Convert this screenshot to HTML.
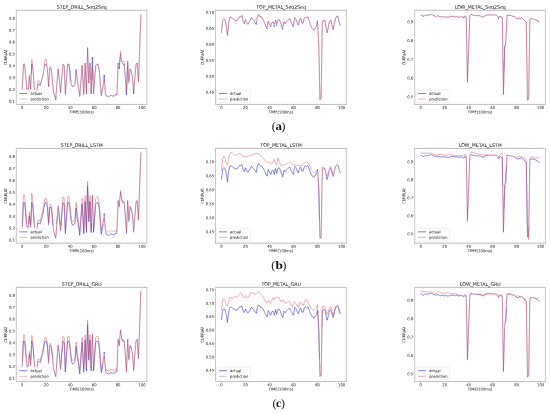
<!DOCTYPE html>
<html lang="en"><head><meta charset="utf-8"><title>Prediction results</title>
<style>
html,body{margin:0;padding:0;background:#fff;}
body{width:550px;height:414px;overflow:hidden;}
svg{display:block;}
svg text{font-family:"DejaVu Sans","Liberation Sans",sans-serif;fill:#1a1a1a;stroke:#1a1a1a;stroke-width:0.3px;text-rendering:geometricPrecision;}
svg text.sub{font-family:"Liberation Serif","DejaVu Serif",serif;fill:#111;stroke:none;}
</style></head><body>
<svg width="550" height="414" viewBox="0 0 550 414">
<rect width="550" height="414" fill="#fff"/>
<g>
<polyline points="22.23,90.32 23.43,64.2 24.63,64.2 25.83,77.26 27.03,90.32 28.22,90.32 29.42,77.26 30.62,89.13 31.82,64.2 33.02,70.14 34.22,86.76 35.41,96.25 36.61,97.44 37.81,84.38 39.01,84.38 40.21,85.57 41.41,80.82 42.6,77.26 43.8,70.14 45,64.2 46.2,64.2 47.4,68.95 48.6,86.76 49.79,68.95 50.99,68.95 52.19,77.26 53.39,91.5 54.59,96.25 55.79,99.81 56.98,83.19 58.18,68.95 59.38,79.63 60.58,92.69 61.78,77.26 62.98,64.2 64.17,65.39 65.37,95.06 66.57,77.26 67.77,64.2 68.97,64.2 70.17,72.51 71.36,84.38 72.56,86.76 73.76,86.16 74.96,84.38 76.16,69.43 77.36,80.82 78.55,87.35 79.75,96.85 80.95,80.82 82.15,65.39 83.71,95.06 85.2,63.02 86.4,93.88 87.6,47.58 88.8,83.19 90,63.02 91.2,93.88 92.4,57.08 93.59,93.88 94.55,79.63 95.75,65.39 96.95,64.2 98.15,64.2 99.35,71.33 100.54,86.76 101.32,95.66 103,86.76 104.2,74.89 105.4,92.69 106.12,95.66 107.31,96.25 108.51,96.85 109.71,96.25 110.91,95.06 112.11,96.25 113.31,95.66 114.5,96.25 115.7,94.47 116.9,95.06 118.1,63.02 119.3,68.95 120.5,53.52 121.69,61.83 122.89,64.2 124.09,64.2 125.29,77.26 126.49,95.06 127.69,63.02 128.88,83.19 130.08,68.95 131.28,71.33 132.48,77.26 133.68,93.88 134.88,77.26 136.07,64.2 137.27,63.02 138.47,82.01 139.67,48.77 140.87,14.35" fill="none" stroke="#0a0aaa" stroke-width="0.52" stroke-linejoin="round" stroke-opacity="0.5"/>
<path d="M31.37 73.55 L31.52 70.43 L31.67 67.32 L31.82 64.2 L31.97 64.94 L32.12 65.69 L32.27 66.43M37.51 87.65 L37.66 86.01 L37.81 84.38 L37.96 84.38 L38.11 84.38 L38.26 84.38 L38.41 84.38 L38.56 84.38 L38.71 84.38 L38.86 84.38 L39.01 84.38 L39.16 84.53 L39.31 84.68 L39.46 84.83 L39.61 84.98M44.55 66.43 L44.7 65.69 L44.85 64.94 L45 64.2 L45.15 64.2 L45.3 64.2 L45.45 64.2 L45.6 64.2 L45.75 64.2 L45.9 64.2 L46.05 64.2 L46.2 64.2 L46.35 64.8 L46.5 65.39 L46.65 65.98M49.79 68.95 L49.94 68.95 L50.09 68.95 L50.24 68.95 L50.39 68.95 L50.54 68.95 L50.69 68.95 L50.84 68.95 L50.99 68.95M55.04 97.59 L55.19 98.03 L55.34 98.48 L55.49 98.92 L55.64 99.37 L55.79 99.81 L55.94 97.74 L56.09 95.66M69.27 66.28 L69.42 67.32 L69.57 68.36 L69.72 69.4 L69.87 70.43 L70.02 71.47 L70.17 72.51 L70.32 74 L70.47 75.48 L70.62 76.96 L70.76 78.45 L70.91 79.93 L71.06 81.41M91.65 80.08 L91.8 75.48 L91.95 70.88 L92.1 66.28 L92.25 61.68 L92.4 57.08 L92.54 61.68 L92.69 66.28 L92.84 70.88 L92.99 75.48 L93.14 80.08M103.75 79.34 L103.9 77.85 L104.05 76.37 L104.2 74.89 L104.35 77.11 L104.5 79.34 L104.65 81.56M118.85 66.73 L119 67.47 L119.15 68.21 L119.3 68.95 L119.45 67.02 L119.6 65.09 L119.75 63.16 L119.9 61.24 L120.05 59.31 L120.2 57.38M122.14 62.72 L122.29 63.02 L122.44 63.31 L122.59 63.61 L122.74 63.91 L122.89 64.2 L123.04 64.2 L123.19 64.2 L123.34 64.2 L123.49 64.2 L123.64 64.2 L123.79 64.2 L123.94 64.2 L124.09 64.2 L124.24 65.84M126.04 88.39 L126.19 90.61 L126.34 92.84 L126.49 95.06 L126.64 91.06 L126.79 87.05 L126.94 83.05 L127.09 79.04 L127.24 75.03 L127.39 71.03 L127.54 67.02M133.38 89.72 L133.53 91.8 L133.68 93.88 L133.83 91.8 L133.98 89.72" fill="none" stroke="#0a0aaa" stroke-width="0.52" stroke-linejoin="round" stroke-opacity="0.5"/>
<polyline points="22.23,90.32 23.43,64.2 24.63,64.2 25.83,77.26 27.03,90.32 28.22,90.32 29.42,74.89 30.62,89.13 31.82,59.45 33.02,70.14 34.22,86.76 35.41,96.25 36.61,97.44 37.81,80.82 39.01,80.82 40.21,85.57 41.41,80.82 42.6,77.26 43.8,70.14 45,59.45 46.2,59.45 47.4,68.95 48.6,86.76 49.79,66.58 50.99,66.58 52.19,77.26 53.39,91.5 54.59,96.25 55.79,96.25 56.98,83.19 58.18,68.95 59.38,79.63 60.58,92.69 61.78,77.26 62.98,64.2 64.17,65.39 65.37,92.69 66.57,77.26 67.77,64.2 68.97,64.2 70.17,83.19 71.36,84.38 72.56,86.76 73.76,86.16 74.96,84.38 76.16,69.43 77.36,80.82 78.55,87.35 79.75,95.06 80.95,80.82 82.15,65.39 83.71,92.69 85.2,63.02 86.4,93.88 87.6,47.58 88.8,83.19 90,63.02 91.2,93.88 92.4,67.17 93.59,93.88 94.55,79.63 95.75,65.39 96.95,64.2 98.15,64.2 99.35,71.33 100.54,86.76 101.32,95.66 103,86.76 104.2,79.63 105.4,92.69 106.12,95.66 107.31,96.25 108.51,96.85 109.71,96.25 110.91,95.06 112.11,96.25 113.31,95.66 114.5,96.25 115.7,94.47 116.9,95.06 118.1,63.02 119.3,65.39 120.5,51.15 121.69,61.83 122.89,61.24 124.09,61.24 125.29,77.26 126.49,90.91 127.69,60.64 128.88,80.82 130.08,68.95 131.28,71.33 132.48,77.26 133.68,90.32 134.88,77.26 136.07,64.2 137.27,63.02 138.47,80.82 139.67,48.77 140.87,14.35" fill="none" stroke="#d43a4c" stroke-width="0.4" stroke-linejoin="round"/>
<rect x="16.9" y="89.9" width="34" height="12.6" rx="0.8" fill="#fff" fill-opacity="0.8" stroke="#e2e2e2" stroke-width="0.5"/>
<line x1="19.2" x2="27.3" y1="93.5" y2="93.5" stroke="#0a0aaa" stroke-width="0.52"/>
<line x1="19.2" x2="27.3" y1="99.05" y2="99.05" stroke="#d43a4c" stroke-width="0.4"/>
<text transform="translate(30.5,94.85) rotate(0.3) scale(0.09400,0.1)" font-size="38.6">actual</text>
<text transform="translate(30.5,100.4) rotate(0.3) scale(0.09400,0.1)" font-size="38.6">prediction</text>
<path d="M16.3 10.27H146.8M16.3 104.4H146.8" fill="none" stroke="#bebebe" stroke-width="1" stroke-linecap="square"/>
<path d="M16.3 10.27V104.4M146.8 10.27V104.4" fill="none" stroke="#c8c8c8" stroke-width="1" stroke-linecap="square"/>
<line x1="22.23" x2="22.23" y1="104.9" y2="106" stroke="#999" stroke-width="0.4"/>
<text transform="translate(22.23,109.05) rotate(0.3) scale(0.09400,0.1)" font-size="39.5" text-anchor="middle">0</text>
<line x1="46.2" x2="46.2" y1="104.9" y2="106" stroke="#999" stroke-width="0.4"/>
<text transform="translate(46.2,109.05) rotate(0.3) scale(0.09400,0.1)" font-size="39.5" text-anchor="middle">20</text>
<line x1="70.17" x2="70.17" y1="104.9" y2="106" stroke="#999" stroke-width="0.4"/>
<text transform="translate(70.17,109.05) rotate(0.3) scale(0.09400,0.1)" font-size="39.5" text-anchor="middle">40</text>
<line x1="94.13" x2="94.13" y1="104.9" y2="106" stroke="#999" stroke-width="0.4"/>
<text transform="translate(94.13,109.05) rotate(0.3) scale(0.09400,0.1)" font-size="39.5" text-anchor="middle">60</text>
<line x1="118.1" x2="118.1" y1="104.9" y2="106" stroke="#999" stroke-width="0.4"/>
<text transform="translate(118.1,109.05) rotate(0.3) scale(0.09400,0.1)" font-size="39.5" text-anchor="middle">80</text>
<line x1="142.07" x2="142.07" y1="104.9" y2="106" stroke="#999" stroke-width="0.4"/>
<text transform="translate(142.07,109.05) rotate(0.3) scale(0.09400,0.1)" font-size="39.5" text-anchor="middle">100</text>
<line x1="14.7" x2="15.8" y1="101" y2="101" stroke="#999" stroke-width="0.4"/>
<text transform="translate(14.8,102.9) rotate(0.3) scale(0.09400,0.1)" font-size="39.5" text-anchor="end">0.1</text>
<line x1="14.7" x2="15.8" y1="89.13" y2="89.13" stroke="#999" stroke-width="0.4"/>
<text transform="translate(14.8,91.03) rotate(0.3) scale(0.09400,0.1)" font-size="39.5" text-anchor="end">0.2</text>
<line x1="14.7" x2="15.8" y1="77.26" y2="77.26" stroke="#999" stroke-width="0.4"/>
<text transform="translate(14.8,79.16) rotate(0.3) scale(0.09400,0.1)" font-size="39.5" text-anchor="end">0.3</text>
<line x1="14.7" x2="15.8" y1="65.39" y2="65.39" stroke="#999" stroke-width="0.4"/>
<text transform="translate(14.8,67.29) rotate(0.3) scale(0.09400,0.1)" font-size="39.5" text-anchor="end">0.4</text>
<line x1="14.7" x2="15.8" y1="53.52" y2="53.52" stroke="#999" stroke-width="0.4"/>
<text transform="translate(14.8,55.42) rotate(0.3) scale(0.09400,0.1)" font-size="39.5" text-anchor="end">0.5</text>
<line x1="14.7" x2="15.8" y1="41.65" y2="41.65" stroke="#999" stroke-width="0.4"/>
<text transform="translate(14.8,43.55) rotate(0.3) scale(0.09400,0.1)" font-size="39.5" text-anchor="end">0.6</text>
<line x1="14.7" x2="15.8" y1="29.78" y2="29.78" stroke="#999" stroke-width="0.4"/>
<text transform="translate(14.8,31.68) rotate(0.3) scale(0.09400,0.1)" font-size="39.5" text-anchor="end">0.7</text>
<line x1="14.7" x2="15.8" y1="17.91" y2="17.91" stroke="#999" stroke-width="0.4"/>
<text transform="translate(14.8,19.81) rotate(0.3) scale(0.09400,0.1)" font-size="39.5" text-anchor="end">0.8</text>
<text transform="translate(81.75,8.77) rotate(0.3) scale(0.09400,0.1)" font-size="49.5" text-anchor="middle">STEP_DRILL_Seq2Seq</text>
<text transform="translate(81.55,113.4) rotate(0.3) scale(0.09400,0.1)" font-size="39.5" text-anchor="middle">TIME(100ms)</text>
<text transform="translate(6.9,57.63) rotate(-90.3) scale(0.09400,0.1)" font-size="38.31" text-anchor="middle">CURR(A)</text>
</g>
<g>
<polyline points="221.45,32.75 222.65,20.62 223.85,19.34 225.05,19.98 226.25,25.73 227.45,35.3 228.65,23.17 229.85,17.43 231.05,17.11 232.26,18.06 233.46,19.34 234.66,19.98 235.86,20.62 237.06,20.62 238.26,18.7 239.46,16.79 240.66,16.79 241.86,15.51 243.07,21.26 244.27,23.81 245.47,19.34 246.67,22.53 247.87,24.45 249.07,22.53 250.27,19.98 251.47,17.43 252.67,19.34 253.88,20.62 255.08,22.21 256.28,24.45 257.48,16.79 258.68,14.23 259.88,16.79 261.08,17.43 262.28,18.06 263.48,20.62 264.69,23.17 265.89,26.36 267.09,28.92 268.29,21.26 269.49,24.45 270.69,27 271.89,22.53 273.09,21.9 274.29,27 275.5,19.98 276.7,25.73 277.9,19.98 279.1,19.34 280.3,21.9 281.5,26.36 282.7,29.56 283.9,21.9 285.1,23.81 286.3,21.9 287.51,20.62 288.71,19.34 289.91,18.7 291.11,22.21 292.31,24.77 293.51,27 294.71,17.43 295.91,19.02 297.11,22.53 298.32,25.09 299.52,19.98 300.72,18.06 301.92,23.17 303.12,23.17 304.32,18.06 305.52,16.79 306.72,18.06 307.92,16.79 309.13,20.62 310.33,24.45 311.53,27.32 312.73,29.24 313.93,30.19 315.13,28.28 316.33,26.36 317.53,20.62 318.73,43.92 319.94,99.78 321.14,98.18 322.34,21.26 323.54,20.62 324.74,19.98 325.94,26.36 327.14,32.75 328.34,27.32 329.54,21.26 330.75,19.98 331.95,24.77 333.15,29.56 334.35,23.49 335.55,18.38 336.75,16.15 337.95,16.15 339.15,22.21 340.35,25.73" fill="none" stroke="#0a0aaa" stroke-width="0.52" stroke-linejoin="round" stroke-opacity="0.5"/>
<path d="M254.18 21.02 L254.33 21.22 L254.48 21.42 L254.63 21.62 L254.78 21.82 L254.93 22.01 L255.08 22.21 L255.23 22.49 L255.38 22.77 L255.53 23.05 L255.68 23.33 L255.83 23.61 L255.98 23.89 L256.13 24.17 L256.28 24.45 L256.43 23.49 L256.58 22.53 L256.73 21.58 L256.88 20.62M260.33 17.03 L260.48 17.11 L260.63 17.19 L260.78 17.27 L260.93 17.35 L261.08 17.43 L261.23 17.51 L261.38 17.59 L261.53 17.67M266.49 27.64 L266.64 27.96 L266.79 28.28 L266.94 28.6 L267.09 28.92M270.09 25.73 L270.24 26.04 L270.39 26.36 L270.54 26.68 L270.69 27 L270.84 26.44M273.84 25.09 L273.99 25.73 L274.14 26.36 L274.29 27 L274.44 26.12M276.55 25.01 L276.7 25.73 L276.85 25.01M281.2 25.25 L281.35 25.81 L281.5 26.36 L281.65 26.76 L281.8 27.16 L281.95 27.56 L282.1 27.96 L282.25 28.36 L282.4 28.76 L282.55 29.16 L282.7 29.56 L282.85 28.6M292.01 24.13 L292.16 24.45 L292.31 24.77 L292.46 25.05 L292.61 25.33 L292.76 25.61 L292.91 25.89 L293.06 26.16 L293.21 26.44 L293.36 26.72 L293.51 27" fill="none" stroke="#0a0aaa" stroke-width="0.52" stroke-linejoin="round" stroke-opacity="0.5"/>
<polyline points="221.45,32.75 222.65,20.62 223.85,19.34 225.05,19.98 226.25,25.73 227.45,35.3 228.65,23.17 229.85,17.43 231.05,17.11 232.26,18.06 233.46,19.34 234.66,19.98 235.86,20.62 237.06,20.62 238.26,18.7 239.46,16.79 240.66,16.79 241.86,15.51 243.07,21.26 244.27,23.81 245.47,19.34 246.67,22.53 247.87,24.45 249.07,22.53 250.27,19.98 251.47,17.43 252.67,19.34 253.88,20.62 255.08,19.66 256.28,19.34 257.48,16.79 258.68,14.23 259.88,16.79 261.08,16.15 262.28,18.06 263.48,20.62 264.69,23.17 265.89,26.36 267.09,27 268.29,21.26 269.49,24.45 270.69,25.09 271.89,22.53 273.09,21.9 274.29,24.13 275.5,19.98 276.7,23.49 277.9,19.98 279.1,19.34 280.3,21.9 281.5,24.13 282.7,26.36 283.9,21.9 285.1,23.81 286.3,21.9 287.51,20.62 288.71,19.34 289.91,18.7 291.11,22.21 292.31,23.49 293.51,24.77 294.71,17.43 295.91,19.02 297.11,22.53 298.32,25.09 299.52,19.98 300.72,18.06 301.92,23.17 303.12,23.17 304.32,18.06 305.52,16.79 306.72,18.06 307.92,16.79 309.13,20.62 310.33,24.45 311.53,27.32 312.73,29.24 313.93,30.19 315.13,28.28 316.33,26.36 317.53,20.62 318.73,43.92 319.94,99.78 321.14,98.18 322.34,21.26 323.54,20.62 324.74,19.98 325.94,26.36 327.14,32.75 328.34,27.32 329.54,21.26 330.75,19.98 331.95,24.77 333.15,29.56 334.35,23.49 335.55,18.38 336.75,16.15 337.95,16.15 339.15,22.21 340.35,25.73" fill="none" stroke="#d43a4c" stroke-width="0.4" stroke-linejoin="round"/>
<rect x="216.5" y="89.9" width="34" height="12.6" rx="0.8" fill="#fff" fill-opacity="0.8" stroke="#e2e2e2" stroke-width="0.5"/>
<line x1="218.8" x2="226.9" y1="93.5" y2="93.5" stroke="#0a0aaa" stroke-width="0.52"/>
<line x1="218.8" x2="226.9" y1="99.05" y2="99.05" stroke="#d43a4c" stroke-width="0.4"/>
<text transform="translate(230.1,94.85) rotate(0.3) scale(0.09400,0.1)" font-size="38.6">actual</text>
<text transform="translate(230.1,100.4) rotate(0.3) scale(0.09400,0.1)" font-size="38.6">prediction</text>
<path d="M215.5 10.27H346.3M215.5 104.4H346.3" fill="none" stroke="#bebebe" stroke-width="1" stroke-linecap="square"/>
<path d="M215.5 10.27V104.4M346.3 10.27V104.4" fill="none" stroke="#c8c8c8" stroke-width="1" stroke-linecap="square"/>
<line x1="221.45" x2="221.45" y1="104.9" y2="106" stroke="#999" stroke-width="0.4"/>
<text transform="translate(221.45,109.05) rotate(0.3) scale(0.09400,0.1)" font-size="39.5" text-anchor="middle">0</text>
<line x1="245.47" x2="245.47" y1="104.9" y2="106" stroke="#999" stroke-width="0.4"/>
<text transform="translate(245.47,109.05) rotate(0.3) scale(0.09400,0.1)" font-size="39.5" text-anchor="middle">20</text>
<line x1="269.49" x2="269.49" y1="104.9" y2="106" stroke="#999" stroke-width="0.4"/>
<text transform="translate(269.49,109.05) rotate(0.3) scale(0.09400,0.1)" font-size="39.5" text-anchor="middle">40</text>
<line x1="293.51" x2="293.51" y1="104.9" y2="106" stroke="#999" stroke-width="0.4"/>
<text transform="translate(293.51,109.05) rotate(0.3) scale(0.09400,0.1)" font-size="39.5" text-anchor="middle">60</text>
<line x1="317.53" x2="317.53" y1="104.9" y2="106" stroke="#999" stroke-width="0.4"/>
<text transform="translate(317.53,109.05) rotate(0.3) scale(0.09400,0.1)" font-size="39.5" text-anchor="middle">80</text>
<line x1="341.56" x2="341.56" y1="104.9" y2="106" stroke="#999" stroke-width="0.4"/>
<text transform="translate(341.56,109.05) rotate(0.3) scale(0.09400,0.1)" font-size="39.5" text-anchor="middle">100</text>
<line x1="213.9" x2="215" y1="91.8" y2="91.8" stroke="#999" stroke-width="0.4"/>
<text transform="translate(214,93.7) rotate(0.3) scale(0.09400,0.1)" font-size="39.5" text-anchor="end">0.45</text>
<line x1="213.9" x2="215" y1="75.84" y2="75.84" stroke="#999" stroke-width="0.4"/>
<text transform="translate(214,77.74) rotate(0.3) scale(0.09400,0.1)" font-size="39.5" text-anchor="end">0.50</text>
<line x1="213.9" x2="215" y1="59.88" y2="59.88" stroke="#999" stroke-width="0.4"/>
<text transform="translate(214,61.78) rotate(0.3) scale(0.09400,0.1)" font-size="39.5" text-anchor="end">0.55</text>
<line x1="213.9" x2="215" y1="43.92" y2="43.92" stroke="#999" stroke-width="0.4"/>
<text transform="translate(214,45.82) rotate(0.3) scale(0.09400,0.1)" font-size="39.5" text-anchor="end">0.60</text>
<line x1="213.9" x2="215" y1="27.96" y2="27.96" stroke="#999" stroke-width="0.4"/>
<text transform="translate(214,29.86) rotate(0.3) scale(0.09400,0.1)" font-size="39.5" text-anchor="end">0.65</text>
<line x1="213.9" x2="215" y1="12" y2="12" stroke="#999" stroke-width="0.4"/>
<text transform="translate(214,13.9) rotate(0.3) scale(0.09400,0.1)" font-size="39.5" text-anchor="end">0.70</text>
<text transform="translate(281.1,8.77) rotate(0.3) scale(0.09400,0.1)" font-size="49.5" text-anchor="middle">TOP_METAL_Seq2Seq</text>
<text transform="translate(280.9,113.4) rotate(0.3) scale(0.09400,0.1)" font-size="39.5" text-anchor="middle">TIME(100ms)</text>
<text transform="translate(203.6,57.63) rotate(-90.3) scale(0.09400,0.1)" font-size="38.31" text-anchor="middle">CURR(A)</text>
</g>
<g>
<polyline points="420.64,14.92 421.84,15.3 423.04,16.61 424.24,15.86 425.44,14.92 426.64,15.67 427.84,14.92 429.04,15.3 430.24,14.55 431.44,14.36 432.64,14.92 433.84,15.86 435.04,15.86 436.24,16.61 437.44,15.67 438.64,16.24 439.84,16.61 441.04,17.17 442.24,16.24 443.44,16.61 444.64,17.17 445.84,16.61 447.04,17.17 448.25,17.17 449.45,16.99 450.65,16.42 451.85,16.42 453.05,16.24 454.25,16.42 455.45,16.99 456.65,16.42 457.85,16.99 459.05,17.17 460.25,16.99 461.45,16.8 462.65,17.17 463.85,18.11 465.05,15.86 466.25,17.55 467.45,82.24 468.65,48.49 469.85,15.67 471.05,14.36 472.25,14.92 473.45,15.3 474.65,15.3 475.85,15.67 477.05,15.67 478.25,15.67 479.45,15.67 480.65,16.05 481.85,16.8 483.05,17.17 484.25,16.42 485.45,15.67 486.65,15.3 487.85,14.92 489.05,14.92 490.25,14.92 491.45,14.92 492.65,14.92 493.85,14.92 495.05,14.92 496.25,15.11 497.45,16.05 498.65,18.86 499.85,16.05 501.05,16.99 502.25,17.55 503.45,94.42 504.65,46.61 505.85,42.86 507.05,14.92 508.25,15.3 509.45,15.49 510.65,15.49 511.85,15.86 513.06,16.24 514.26,16.61 515.46,17.55 516.66,18.49 517.86,19.24 519.06,17.92 520.26,18.86 521.46,17.36 522.66,18.67 523.86,19.99 525.06,21.3 526.26,22.24 527.46,100.05 528.66,99.11 529.86,19.05 531.06,18.86 532.26,18.86 533.46,19.05 534.66,19.42 535.86,19.99 537.06,20.74 538.26,21.68 539.46,22.61" fill="none" stroke="#0a0aaa" stroke-width="0.52" stroke-linejoin="round" stroke-opacity="0.5"/>
<path d="M422.59 16.12 L422.74 16.28 L422.89 16.45 L423.04 16.61 L423.19 16.52 L423.34 16.42 L423.49 16.33 L423.64 16.24M463.1 17.53 L463.25 17.64 L463.4 17.76 L463.55 17.88 L463.7 18 L463.85 18.11 L464 17.83 L464.15 17.55 L464.3 17.27 L464.45 16.99M498.35 18.16 L498.5 18.51 L498.65 18.86 L498.8 18.51 L498.95 18.16M504.05 70.52 L504.2 64.54 L504.35 58.57 L504.5 52.59 L504.65 46.61 L504.8 46.14 L504.95 45.67M517.41 18.96 L517.56 19.05 L517.71 19.14 L517.86 19.24 L518.01 19.07M537.36 20.97 L537.51 21.09 L537.66 21.21 L537.81 21.32 L537.96 21.44 L538.11 21.56 L538.26 21.68 L538.41 21.79 L538.56 21.91 L538.71 22.03 L538.86 22.14 L539.01 22.26 L539.16 22.38 L539.31 22.5 L539.46 22.61" fill="none" stroke="#0a0aaa" stroke-width="0.52" stroke-linejoin="round" stroke-opacity="0.5"/>
<polyline points="420.64,14.92 421.84,15.3 423.04,15.67 424.24,15.86 425.44,14.92 426.64,15.67 427.84,14.92 429.04,15.3 430.24,14.55 431.44,14.36 432.64,14.92 433.84,15.86 435.04,15.86 436.24,16.61 437.44,15.67 438.64,16.24 439.84,16.61 441.04,17.17 442.24,16.24 443.44,16.61 444.64,17.17 445.84,16.61 447.04,17.17 448.25,17.17 449.45,16.99 450.65,16.42 451.85,16.42 453.05,16.24 454.25,16.42 455.45,16.99 456.65,16.42 457.85,16.99 459.05,17.17 460.25,16.99 461.45,16.8 462.65,17.17 463.85,16.24 465.05,15.86 466.25,17.55 467.45,82.24 468.65,48.49 469.85,15.67 471.05,14.36 472.25,14.92 473.45,15.3 474.65,15.3 475.85,15.67 477.05,15.67 478.25,15.67 479.45,15.67 480.65,16.05 481.85,16.8 483.05,17.17 484.25,16.42 485.45,15.67 486.65,15.3 487.85,14.92 489.05,14.92 490.25,14.92 491.45,14.92 492.65,14.92 493.85,14.92 495.05,14.92 496.25,15.11 497.45,16.05 498.65,17.55 499.85,16.05 501.05,16.99 502.25,17.55 503.45,94.42 504.65,52.24 505.85,40.05 507.05,14.92 508.25,15.3 509.45,15.49 510.65,15.49 511.85,15.86 513.06,16.24 514.26,16.61 515.46,17.55 516.66,18.49 517.86,18.49 519.06,17.92 520.26,18.86 521.46,17.36 522.66,18.67 523.86,19.42 525.06,21.3 526.26,22.24 527.46,100.05 528.66,99.11 529.86,19.05 531.06,18.86 532.26,18.86 533.46,19.05 534.66,19.42 535.86,19.99 537.06,20.36 538.26,20.74 539.46,21.11" fill="none" stroke="#d43a4c" stroke-width="0.4" stroke-linejoin="round"/>
<rect x="415.7" y="89.9" width="34" height="12.6" rx="0.8" fill="#fff" fill-opacity="0.8" stroke="#e2e2e2" stroke-width="0.5"/>
<line x1="418" x2="426.1" y1="93.5" y2="93.5" stroke="#0a0aaa" stroke-width="0.52"/>
<line x1="418" x2="426.1" y1="99.05" y2="99.05" stroke="#d43a4c" stroke-width="0.4"/>
<text transform="translate(429.3,94.85) rotate(0.3) scale(0.09400,0.1)" font-size="38.6">actual</text>
<text transform="translate(429.3,100.4) rotate(0.3) scale(0.09400,0.1)" font-size="38.6">prediction</text>
<path d="M414.7 10.27H545.4M414.7 104.4H545.4" fill="none" stroke="#bebebe" stroke-width="1" stroke-linecap="square"/>
<path d="M414.7 10.27V104.4M545.4 10.27V104.4" fill="none" stroke="#c8c8c8" stroke-width="1" stroke-linecap="square"/>
<line x1="420.64" x2="420.64" y1="104.9" y2="106" stroke="#999" stroke-width="0.4"/>
<text transform="translate(420.64,109.05) rotate(0.3) scale(0.09400,0.1)" font-size="39.5" text-anchor="middle">0</text>
<line x1="444.64" x2="444.64" y1="104.9" y2="106" stroke="#999" stroke-width="0.4"/>
<text transform="translate(444.64,109.05) rotate(0.3) scale(0.09400,0.1)" font-size="39.5" text-anchor="middle">20</text>
<line x1="468.65" x2="468.65" y1="104.9" y2="106" stroke="#999" stroke-width="0.4"/>
<text transform="translate(468.65,109.05) rotate(0.3) scale(0.09400,0.1)" font-size="39.5" text-anchor="middle">40</text>
<line x1="492.65" x2="492.65" y1="104.9" y2="106" stroke="#999" stroke-width="0.4"/>
<text transform="translate(492.65,109.05) rotate(0.3) scale(0.09400,0.1)" font-size="39.5" text-anchor="middle">60</text>
<line x1="516.66" x2="516.66" y1="104.9" y2="106" stroke="#999" stroke-width="0.4"/>
<text transform="translate(516.66,109.05) rotate(0.3) scale(0.09400,0.1)" font-size="39.5" text-anchor="middle">80</text>
<line x1="540.66" x2="540.66" y1="104.9" y2="106" stroke="#999" stroke-width="0.4"/>
<text transform="translate(540.66,109.05) rotate(0.3) scale(0.09400,0.1)" font-size="39.5" text-anchor="middle">100</text>
<line x1="413.1" x2="414.2" y1="96.3" y2="96.3" stroke="#999" stroke-width="0.4"/>
<text transform="translate(413.2,98.2) rotate(0.3) scale(0.09400,0.1)" font-size="39.5" text-anchor="end">0.5</text>
<line x1="413.1" x2="414.2" y1="77.55" y2="77.55" stroke="#999" stroke-width="0.4"/>
<text transform="translate(413.2,79.45) rotate(0.3) scale(0.09400,0.1)" font-size="39.5" text-anchor="end">0.6</text>
<line x1="413.1" x2="414.2" y1="58.8" y2="58.8" stroke="#999" stroke-width="0.4"/>
<text transform="translate(413.2,60.7) rotate(0.3) scale(0.09400,0.1)" font-size="39.5" text-anchor="end">0.7</text>
<line x1="413.1" x2="414.2" y1="40.05" y2="40.05" stroke="#999" stroke-width="0.4"/>
<text transform="translate(413.2,41.95) rotate(0.3) scale(0.09400,0.1)" font-size="39.5" text-anchor="end">0.8</text>
<line x1="413.1" x2="414.2" y1="21.3" y2="21.3" stroke="#999" stroke-width="0.4"/>
<text transform="translate(413.2,23.2) rotate(0.3) scale(0.09400,0.1)" font-size="39.5" text-anchor="end">0.9</text>
<text transform="translate(480.25,8.77) rotate(0.3) scale(0.09400,0.1)" font-size="49.5" text-anchor="middle">LOW_METAL_Seq2Seq</text>
<text transform="translate(480.05,113.4) rotate(0.3) scale(0.09400,0.1)" font-size="39.5" text-anchor="middle">TIME(100ms)</text>
<text transform="translate(405.25,57.63) rotate(-90.3) scale(0.09400,0.1)" font-size="38.31" text-anchor="middle">CURR(A)</text>
</g>
<g>
<polyline points="22.23,228.87 23.43,202.65 24.63,202.65 25.83,215.76 27.03,228.87 28.22,228.87 29.42,215.76 30.62,227.68 31.82,202.65 33.02,208.61 34.22,225.3 35.41,234.83 36.61,236.02 37.81,222.91 39.01,222.91 40.21,224.1 41.41,219.34 42.6,215.76 43.8,208.61 45,202.65 46.2,202.65 47.4,207.42 48.6,225.3 49.79,207.42 50.99,207.42 52.19,215.76 53.39,230.06 54.59,234.83 55.79,238.41 56.98,221.72 58.18,207.42 59.38,218.14 60.58,231.26 61.78,215.76 62.98,202.65 64.17,203.84 65.37,233.64 66.57,215.76 67.77,202.65 68.97,202.65 70.17,210.99 71.36,222.91 72.56,225.3 73.76,224.7 74.96,222.91 76.16,207.89 77.36,219.34 78.55,225.89 79.75,235.43 80.95,219.34 82.15,203.84 83.71,233.64 85.2,201.46 86.4,232.45 87.6,185.96 88.8,221.72 90,201.46 91.2,232.45 92.4,195.5 93.59,232.45 94.55,218.14 95.75,203.84 96.95,202.65 98.15,202.65 99.35,209.8 100.54,225.3 101.32,234.24 103,225.3 104.2,213.38 105.4,231.26 106.12,234.24 107.31,234.83 108.51,235.43 109.71,234.83 110.91,233.64 112.11,234.83 113.31,234.24 114.5,234.83 115.7,233.04 116.9,233.64 118.1,201.46 119.3,207.42 120.5,191.92 121.69,200.26 122.89,202.65 124.09,202.65 125.29,215.76 126.49,233.64 127.69,201.46 128.88,221.72 130.08,207.42 131.28,209.8 132.48,215.76 133.68,232.45 134.88,215.76 136.07,202.65 137.27,201.46 138.47,220.53 139.67,187.15 140.87,152.58" fill="none" stroke="#0a0aaa" stroke-width="0.52" stroke-linejoin="round" stroke-opacity="0.5"/>
<path d="M22.38 225.59 L22.53 222.32 L22.68 219.04 L22.83 215.76 L22.98 212.48 L23.13 209.2 L23.28 205.93 L23.43 202.65 L23.58 202.65 L23.73 202.65 L23.88 202.65 L24.03 202.65 L24.18 202.65 L24.33 202.65 L24.48 202.65 L24.63 202.65 L24.78 204.29 L24.93 205.93 L25.08 207.56 L25.23 209.2 L25.38 210.84 L25.53 212.48 L25.68 214.12 L25.83 215.76 L25.98 217.4 L26.13 219.04 L26.28 220.68 L26.43 222.32 L26.58 223.95M27.03 228.87 L27.18 228.87 L27.32 228.87 L27.47 228.87 L27.62 228.87 L27.77 228.87 L27.92 228.87 L28.07 228.87 L28.22 228.87M28.67 223.95 L28.82 222.32 L28.97 220.68 L29.12 219.04 L29.27 217.4 L29.42 215.76 L29.57 217.25 L29.72 218.74 L29.87 220.23 L30.02 221.72 L30.17 223.21 L30.32 224.7M30.77 224.55 L30.92 221.42 L31.07 218.29 L31.22 215.16 L31.37 212.03 L31.52 208.91 L31.67 205.78 L31.82 202.65 L31.97 203.39 L32.12 204.14 L32.27 204.88 L32.42 205.63 L32.57 206.37 L32.72 207.12 L32.87 207.86 L33.02 208.61 L33.17 210.69 L33.32 212.78 L33.47 214.87 L33.62 216.95 L33.77 219.04 L33.92 221.12 L34.07 223.21M35.41 234.83 L35.56 234.98 L35.71 235.13 L35.86 235.28 L36.01 235.43 L36.16 235.58 L36.31 235.73 L36.46 235.88 L36.61 236.02M37.66 224.55 L37.81 222.91 L37.96 222.91 L38.11 222.91 L38.26 222.91 L38.41 222.91 L38.56 222.91 L38.71 222.91 L38.86 222.91 L39.01 222.91 L39.16 223.06 L39.31 223.21 L39.46 223.36 L39.61 223.51 L39.76 223.66 L39.91 223.81 L40.06 223.95 L40.21 224.1 L40.36 223.51 L40.51 222.91 L40.66 222.32 L40.81 221.72 L40.96 221.12 L41.11 220.53 L41.26 219.93 L41.41 219.34 L41.56 218.89 L41.7 218.44 L41.85 217.99 L42 217.55 L42.15 217.1 L42.3 216.65 L42.45 216.21 L42.6 215.76 L42.75 214.87 L42.9 213.97 L43.05 213.08 L43.2 212.18 L43.35 211.29 L43.5 210.4 L43.65 209.5 L43.8 208.61 L43.95 207.86 L44.1 207.12 L44.25 206.37 L44.4 205.63 L44.55 204.88 L44.7 204.14 L44.85 203.39 L45 202.65 L45.15 202.65 L45.3 202.65 L45.45 202.65 L45.6 202.65 L45.75 202.65 L45.9 202.65 L46.05 202.65 L46.2 202.65 L46.35 203.24 L46.5 203.84 L46.65 204.44 L46.8 205.03 L46.95 205.63 L47.1 206.22 L47.25 206.82 L47.4 207.42 L47.55 209.65 L47.7 211.89 L47.85 214.12 L48 216.36 L48.15 218.59 L48.3 220.83 L48.45 223.06M48.75 223.06 L48.9 220.83 L49.04 218.59 L49.19 216.36 L49.34 214.12 L49.49 211.89 L49.64 209.65 L49.79 207.42 L49.94 207.42 L50.09 207.42 L50.24 207.42 L50.39 207.42 L50.54 207.42 L50.69 207.42 L50.84 207.42 L50.99 207.42 L51.14 208.46 L51.29 209.5 L51.44 210.54 L51.59 211.59 L51.74 212.63 L51.89 213.67 L52.04 214.72 L52.19 215.76 L52.34 217.55 L52.49 219.34 L52.64 221.12 L52.79 222.91 L52.94 224.7M56.83 223.81 L56.98 221.72 L57.13 219.93 L57.28 218.14 L57.43 216.36M58.78 212.78 L58.93 214.12 L59.08 215.46 L59.23 216.8 L59.38 218.14 L59.53 219.78 L59.68 221.42 L59.83 223.06 L59.98 224.7M61.03 225.44 L61.18 223.51 L61.33 221.57 L61.48 219.63 L61.63 217.7 L61.78 215.76 L61.93 214.12 L62.08 212.48 L62.23 210.84 L62.38 209.2 L62.53 207.56 L62.68 205.93 L62.83 204.29 L62.98 202.65 L63.13 202.8 L63.28 202.95 L63.42 203.09 L63.57 203.24 L63.72 203.39 L63.87 203.54 L64.02 203.69 L64.17 203.84 L64.32 207.56 L64.47 211.29 L64.62 215.01 L64.77 218.74 L64.92 222.46 L65.07 226.19 L65.22 229.91 L65.37 233.64 L65.52 231.4 L65.67 229.17 L65.82 226.94 L65.97 224.7 L66.12 222.46 L66.27 220.23 L66.42 218 L66.57 215.76 L66.72 214.12 L66.87 212.48 L67.02 210.84 L67.17 209.2 L67.32 207.56 L67.47 205.93 L67.62 204.29 L67.77 202.65 L67.92 202.65 L68.07 202.65 L68.22 202.65 L68.37 202.65 L68.52 202.65 L68.67 202.65 L68.82 202.65 L68.97 202.65 L69.12 203.69 L69.27 204.73 L69.42 205.78 L69.57 206.82 L69.72 207.86 L69.87 208.91 L70.02 209.95 L70.17 210.99 L70.32 212.48 L70.47 213.97 L70.62 215.46 L70.76 216.95 L70.91 218.44 L71.06 219.93 L71.21 221.42 L71.36 222.91 L71.51 223.21 L71.66 223.51 L71.81 223.81 L71.96 224.1 L72.11 224.4 L72.26 224.7 L72.41 225 L72.56 225.3 L72.71 225.22 L72.86 225.15 L73.01 225.07 L73.16 225 L73.31 224.92 L73.46 224.85 L73.61 224.77 L73.76 224.7 L73.91 224.48 L74.06 224.25 L74.21 224.03 L74.36 223.81 L74.51 223.58 L74.66 223.36 L74.81 223.14 L74.96 222.91 L75.11 221.03 L75.26 219.16 L75.41 217.28 L75.56 215.4 L75.71 213.53 L75.86 211.65 L76.01 209.77 L76.16 207.89 L76.31 209.32 L76.46 210.75 L76.61 212.18 L76.76 213.61 L76.91 215.04 L77.06 216.48 L77.21 217.91 L77.36 219.34 L77.51 220.16 L77.66 220.97 L77.81 221.79 L77.95 222.61 L78.1 223.43 L78.25 224.25 L78.4 225.07 L78.55 225.89 L78.7 227.08 L78.85 228.28 L79 229.47 L79.15 230.66 L79.3 231.85 L79.45 233.04 L79.6 234.24 L79.75 235.43 L79.9 233.42 L80.05 231.41 L80.2 229.39 L80.35 227.38 L80.5 225.37 L80.65 223.36 L80.8 221.35 L80.95 219.34 L81.1 217.4 L81.25 215.46 L81.4 213.52 L81.55 211.59 L81.7 209.65 L81.85 207.71 L82 205.78 L82.15 203.84 L82.34 207.56 L82.54 211.29 L82.73 215.01 L82.93 218.74 L83.12 222.46 L83.32 226.19 L83.51 229.91 L83.71 233.64 L83.89 229.62 L84.08 225.59 L84.27 221.57 L84.46 217.55 L84.64 213.52 L84.83 209.5 L85.02 205.48 L85.2 201.46 L85.35 205.33 L85.5 209.2 L85.65 213.08 L85.8 216.95 L85.95 220.83 L86.1 224.7 L86.25 228.57 L86.4 232.45 L86.55 226.64 L86.7 220.83 L86.85 215.01 L87 209.2 L87.15 203.39 L87.3 197.58 L87.45 191.77 L87.6 185.96 L87.75 190.43 L87.9 194.9 L88.05 199.37 L88.2 203.84 L88.35 208.31 L88.5 212.78 L88.65 217.25 L88.8 221.72 L88.95 219.19 L89.1 216.65 L89.25 214.12 L89.4 211.59 L89.55 209.06 L89.7 206.52 L89.85 203.99 L90 201.46 L90.15 205.33 L90.3 209.2 L90.45 213.08 L90.6 216.95 L90.75 220.83 L90.9 224.7 L91.05 228.57 L91.2 232.45 L91.35 227.83 L91.5 223.21M93.29 223.21 L93.44 227.83 L93.59 232.45 L93.71 230.66 L93.83 228.87 L93.95 227.08 L94.07 225.3 L94.19 223.51 L94.31 221.72 L94.43 219.93 L94.55 218.14 L94.7 216.36 L94.85 214.57 L95 212.78 L95.15 210.99 L95.3 209.2 L95.45 207.42 L95.6 205.63 L95.75 203.84 L95.9 203.69 L96.05 203.54 L96.2 203.39 L96.35 203.24 L96.5 203.09 L96.65 202.95 L96.8 202.8 L96.95 202.65 L97.1 202.65 L97.25 202.65 L97.4 202.65 L97.55 202.65 L97.7 202.65 L97.85 202.65 L98 202.65 L98.15 202.65 L98.3 203.54 L98.45 204.44 L98.6 205.33 L98.75 206.22 L98.9 207.12 L99.05 208.01 L99.2 208.91 L99.35 209.8 L99.5 211.74 L99.65 213.67 L99.79 215.61 L99.94 217.55 L100.09 219.49 L100.24 221.42 L100.39 223.36 L100.54 225.3 L100.64 226.41 L100.74 227.53 L100.84 228.65 L100.93 229.77 L101.03 230.88 L101.13 232 L101.23 233.12 L101.32 234.24 L101.53 233.12 L101.74 232 L101.95 230.88 L102.16 229.77 L102.37 228.65 L102.58 227.53 L102.79 226.41 L103 225.3 L103.15 223.81M104.05 214.87 L104.2 213.38 L104.35 215.61M105.4 231.26 L105.49 231.63 L105.58 232 L105.67 232.37 L105.76 232.75 L105.85 233.12 L105.94 233.49 L106.03 233.86 L106.12 234.24 L106.27 234.31 L106.42 234.38 L106.57 234.46 L106.72 234.53 L106.87 234.61 L107.01 234.68 L107.16 234.76 L107.31 234.83 L107.46 234.91 L107.61 234.98 L107.76 235.06 L107.91 235.13 L108.06 235.2 L108.21 235.28 L108.36 235.35 L108.51 235.43 L108.66 235.35 L108.81 235.28 L108.96 235.2 L109.11 235.13 L109.26 235.06 L109.41 234.98 L109.56 234.91 L109.71 234.83 L109.86 234.68 L110.01 234.53 L110.16 234.38 L110.31 234.24 L110.46 234.09 L110.61 233.94 L110.76 233.79 L110.91 233.64 L111.06 233.79 L111.21 233.94 L111.36 234.09 L111.51 234.24 L111.66 234.38 L111.81 234.53 L111.96 234.68 L112.11 234.83 L112.26 234.76 L112.41 234.68 L112.56 234.61 L112.71 234.53 L112.86 234.46 L113.01 234.38 L113.16 234.31 L113.31 234.24 L113.46 234.31 L113.61 234.38 L113.76 234.46 L113.91 234.53 L114.06 234.61 L114.2 234.68 L114.35 234.76 L114.5 234.83 L114.65 234.61 L114.8 234.38 L114.95 234.16 L115.1 233.94 L115.25 233.71 L115.4 233.49 L115.55 233.27 L115.7 233.04 L115.85 233.12 L116 233.19 L116.15 233.27 L116.3 233.34 L116.45 233.42 L116.6 233.49 L116.75 233.57 L116.9 233.64M121.69 200.26 L121.84 200.56 L121.99 200.86 L122.14 201.16 L122.29 201.46 L122.44 201.75 L122.59 202.05 L122.74 202.35 L122.89 202.65 L123.04 202.65 L123.19 202.65 L123.34 202.65 L123.49 202.65 L123.64 202.65 L123.79 202.65 L123.94 202.65 L124.09 202.65M130.08 207.42 L130.23 207.71 L130.38 208.01 L130.53 208.31 L130.68 208.61 L130.83 208.91 L130.98 209.2 L131.13 209.5 L131.28 209.8M136.07 202.65 L136.22 202.5 L136.37 202.35 L136.52 202.2 L136.67 202.05 L136.82 201.9 L136.97 201.75 L137.12 201.6 L137.27 201.46" fill="none" stroke="#0a0aaa" stroke-width="0.52" stroke-linejoin="round" stroke-opacity="0.5"/>
<polyline points="22.23,226.94 23.43,194.9 24.63,194.9 25.83,211.73 27.03,226.94 28.22,226.94 29.42,211.73 30.62,225.56 31.82,193.11 33.02,203.43 34.22,222.79 35.41,233.85 36.61,235.24 37.81,220.03 39.01,220.03 40.21,221.41 41.41,215.88 42.6,211.73 43.8,203.43 45,198.48 46.2,198.48 47.4,202.05 48.6,222.79 49.79,204.44 50.99,204.44 52.19,211.73 53.39,228.32 54.59,233.85 55.79,237.81 56.98,218.64 58.18,205.63 59.38,214.5 60.58,229.71 61.78,211.23 62.98,196.81 64.17,198.12 65.37,230.3 66.57,211.23 67.77,196.81 68.97,196.81 70.17,205.99 71.36,219.1 72.56,221.72 73.76,221.06 74.96,219.1 76.16,202.58 77.36,215.16 78.55,222.38 79.75,232.09 80.95,215.16 82.15,198.12 83.71,230.3 85.2,195.5 86.4,229.11 87.6,181.19 88.8,217.79 90,195.5 91.2,229.11 92.4,194.9 93.59,229.11 94.55,213.85 95.75,198.12 96.95,196.81 98.15,196.81 99.35,204.67 100.54,221.72 101.32,230.9 103,221.72 104.2,217.55 105.4,227.92 106.12,230.9 107.31,231.49 108.51,232.09 109.71,231.49 110.91,230.3 112.11,231.49 113.31,230.9 114.5,231.49 115.7,229.71 116.9,232.21 118.1,200.03 119.3,205.99 120.5,190.49 121.69,198.83 122.89,201.22 124.09,201.22 125.29,214.33 126.49,232.21 127.69,200.03 128.88,220.29 130.08,205.99 131.28,208.37 132.48,214.33 133.68,231.02 134.88,214.33 136.07,201.22 137.27,200.03 138.47,219.1 139.67,185.96 140.87,152.58" fill="none" stroke="#d43a4c" stroke-width="0.4" stroke-linejoin="round"/>
<rect x="16.9" y="228.25" width="34" height="12.6" rx="0.8" fill="#fff" fill-opacity="0.8" stroke="#e2e2e2" stroke-width="0.5"/>
<line x1="19.2" x2="27.3" y1="231.85" y2="231.85" stroke="#0a0aaa" stroke-width="0.52"/>
<line x1="19.2" x2="27.3" y1="237.4" y2="237.4" stroke="#d43a4c" stroke-width="0.4"/>
<text transform="translate(30.5,233.2) rotate(0.3) scale(0.09400,0.1)" font-size="38.6">actual</text>
<text transform="translate(30.5,238.75) rotate(0.3) scale(0.09400,0.1)" font-size="38.6">prediction</text>
<path d="M16.3 148.4H146.8M16.3 243.15H146.8" fill="none" stroke="#bebebe" stroke-width="1" stroke-linecap="square"/>
<path d="M16.3 148.4V243.15M146.8 148.4V243.15" fill="none" stroke="#c8c8c8" stroke-width="1" stroke-linecap="square"/>
<line x1="22.23" x2="22.23" y1="243.65" y2="244.75" stroke="#999" stroke-width="0.4"/>
<text transform="translate(22.23,247.8) rotate(0.3) scale(0.09400,0.1)" font-size="39.5" text-anchor="middle">0</text>
<line x1="46.2" x2="46.2" y1="243.65" y2="244.75" stroke="#999" stroke-width="0.4"/>
<text transform="translate(46.2,247.8) rotate(0.3) scale(0.09400,0.1)" font-size="39.5" text-anchor="middle">20</text>
<line x1="70.17" x2="70.17" y1="243.65" y2="244.75" stroke="#999" stroke-width="0.4"/>
<text transform="translate(70.17,247.8) rotate(0.3) scale(0.09400,0.1)" font-size="39.5" text-anchor="middle">40</text>
<line x1="94.13" x2="94.13" y1="243.65" y2="244.75" stroke="#999" stroke-width="0.4"/>
<text transform="translate(94.13,247.8) rotate(0.3) scale(0.09400,0.1)" font-size="39.5" text-anchor="middle">60</text>
<line x1="118.1" x2="118.1" y1="243.65" y2="244.75" stroke="#999" stroke-width="0.4"/>
<text transform="translate(118.1,247.8) rotate(0.3) scale(0.09400,0.1)" font-size="39.5" text-anchor="middle">80</text>
<line x1="142.07" x2="142.07" y1="243.65" y2="244.75" stroke="#999" stroke-width="0.4"/>
<text transform="translate(142.07,247.8) rotate(0.3) scale(0.09400,0.1)" font-size="39.5" text-anchor="middle">100</text>
<line x1="14.7" x2="15.8" y1="239.6" y2="239.6" stroke="#999" stroke-width="0.4"/>
<text transform="translate(14.8,241.5) rotate(0.3) scale(0.09400,0.1)" font-size="39.5" text-anchor="end">0.1</text>
<line x1="14.7" x2="15.8" y1="227.68" y2="227.68" stroke="#999" stroke-width="0.4"/>
<text transform="translate(14.8,229.58) rotate(0.3) scale(0.09400,0.1)" font-size="39.5" text-anchor="end">0.2</text>
<line x1="14.7" x2="15.8" y1="215.76" y2="215.76" stroke="#999" stroke-width="0.4"/>
<text transform="translate(14.8,217.66) rotate(0.3) scale(0.09400,0.1)" font-size="39.5" text-anchor="end">0.3</text>
<line x1="14.7" x2="15.8" y1="203.84" y2="203.84" stroke="#999" stroke-width="0.4"/>
<text transform="translate(14.8,205.74) rotate(0.3) scale(0.09400,0.1)" font-size="39.5" text-anchor="end">0.4</text>
<line x1="14.7" x2="15.8" y1="191.92" y2="191.92" stroke="#999" stroke-width="0.4"/>
<text transform="translate(14.8,193.82) rotate(0.3) scale(0.09400,0.1)" font-size="39.5" text-anchor="end">0.5</text>
<line x1="14.7" x2="15.8" y1="180" y2="180" stroke="#999" stroke-width="0.4"/>
<text transform="translate(14.8,181.9) rotate(0.3) scale(0.09400,0.1)" font-size="39.5" text-anchor="end">0.6</text>
<line x1="14.7" x2="15.8" y1="168.08" y2="168.08" stroke="#999" stroke-width="0.4"/>
<text transform="translate(14.8,169.98) rotate(0.3) scale(0.09400,0.1)" font-size="39.5" text-anchor="end">0.7</text>
<line x1="14.7" x2="15.8" y1="156.16" y2="156.16" stroke="#999" stroke-width="0.4"/>
<text transform="translate(14.8,158.06) rotate(0.3) scale(0.09400,0.1)" font-size="39.5" text-anchor="end">0.8</text>
<text transform="translate(81.75,146.9) rotate(0.3) scale(0.09400,0.1)" font-size="49.5" text-anchor="middle">STEP_DRILL_LSTM</text>
<text transform="translate(81.55,252.15) rotate(0.3) scale(0.09400,0.1)" font-size="39.5" text-anchor="middle">TIME(100ms)</text>
<text transform="translate(6.9,196.08) rotate(-90.3) scale(0.09400,0.1)" font-size="38.31" text-anchor="middle">CURR(A)</text>
</g>
<g>
<polyline points="221.45,179.6 222.65,168.96 223.85,167.84 225.05,168.4 226.25,173.44 227.45,181.84 228.65,171.2 229.85,166.16 231.05,165.88 232.26,166.72 233.46,167.84 234.66,168.4 235.86,168.96 237.06,168.96 238.26,167.28 239.46,165.6 240.66,165.6 241.86,164.48 243.07,169.52 244.27,171.76 245.47,167.84 246.67,170.64 247.87,172.32 249.07,170.64 250.27,168.4 251.47,166.16 252.67,167.84 253.88,168.96 255.08,170.36 256.28,172.32 257.48,165.6 258.68,163.36 259.88,165.6 261.08,166.16 262.28,166.72 263.48,168.96 264.69,171.2 265.89,174 267.09,176.24 268.29,169.52 269.49,172.32 270.69,174.56 271.89,170.64 273.09,170.08 274.29,174.56 275.5,168.4 276.7,173.44 277.9,168.4 279.1,167.84 280.3,170.08 281.5,174 282.7,176.8 283.9,170.08 285.1,171.76 286.3,170.08 287.51,168.96 288.71,167.84 289.91,167.28 291.11,170.36 292.31,172.6 293.51,174.56 294.71,166.16 295.91,167.56 297.11,170.64 298.32,172.88 299.52,168.4 300.72,166.72 301.92,171.2 303.12,171.2 304.32,166.72 305.52,165.6 306.72,166.72 307.92,165.6 309.13,168.96 310.33,172.32 311.53,174.84 312.73,176.52 313.93,177.36 315.13,175.68 316.33,174 317.53,168.96 318.73,189.4 319.94,238.4 321.14,237 322.34,169.52 323.54,168.96 324.74,168.4 325.94,174 327.14,179.6 328.34,174.84 329.54,169.52 330.75,168.4 331.95,172.6 333.15,176.8 334.35,171.48 335.55,167 336.75,165.04 337.95,165.04 339.15,170.36 340.35,173.44" fill="none" stroke="#0a0aaa" stroke-width="0.52" stroke-linejoin="round" stroke-opacity="0.5"/>
<path d="M221.45 179.6 L221.6 178.27 L221.75 176.94 L221.9 175.61 L222.05 174.28 L222.2 172.95 L222.35 171.62 L222.5 170.29 L222.65 168.96 L222.8 168.82 L222.95 168.68 L223.1 168.54 L223.25 168.4 L223.4 168.26 L223.55 168.12 L223.7 167.98 L223.85 167.84 L224 167.91 L224.15 167.98 L224.3 168.05 L224.45 168.12 L224.6 168.19 L224.75 168.26 L224.9 168.33 L225.05 168.4 L225.2 169.03 L225.35 169.66 L225.5 170.29 L225.65 170.92 L225.8 171.55 L225.95 172.18 L226.1 172.81 L226.25 173.44 L226.4 174.49 L226.55 175.54 L226.7 176.59 L226.85 177.64 L227 178.69 L227.15 179.74 L227.3 180.79 L227.45 181.84 L227.6 180.51 L227.75 179.18 L227.9 177.85 L228.05 176.52 L228.2 175.19 L228.35 173.86 L228.5 172.53 L228.65 171.2 L228.8 170.57 L228.95 169.94 L229.1 169.31 L229.25 168.68 L229.4 168.05 L229.55 167.42 L229.7 166.79 L229.85 166.16 L230 166.12 L230.15 166.09 L230.3 166.05 L230.45 166.02 L230.6 165.98 L230.75 165.95 L230.9 165.91 L231.05 165.88 L231.2 165.98 L231.35 166.09 L231.5 166.19 L231.65 166.3 L231.8 166.4 L231.96 166.51 L232.11 166.61 L232.26 166.72 L232.41 166.86 L232.56 167 L232.71 167.14 L232.86 167.28 L233.01 167.42 L233.16 167.56 L233.31 167.7 L233.46 167.84 L233.61 167.91 L233.76 167.98 L233.91 168.05 L234.06 168.12 L234.21 168.19 L234.36 168.26 L234.51 168.33 L234.66 168.4 L234.81 168.47 L234.96 168.54 L235.11 168.61 L235.26 168.68 L235.41 168.75 L235.56 168.82 L235.71 168.89 L235.86 168.96 L236.01 168.96 L236.16 168.96 L236.31 168.96 L236.46 168.96 L236.61 168.96 L236.76 168.96 L236.91 168.96 L237.06 168.96 L237.21 168.75 L237.36 168.54 L237.51 168.33 L237.66 168.12 L237.81 167.91 L237.96 167.7 L238.11 167.49 L238.26 167.28 L238.41 167.07 L238.56 166.86 L238.71 166.65 L238.86 166.44 L239.01 166.23 L239.16 166.02 L239.31 165.81 L239.46 165.6 L239.61 165.6 L239.76 165.6 L239.91 165.6 L240.06 165.6 L240.21 165.6 L240.36 165.6 L240.51 165.6 L240.66 165.6 L240.81 165.46 L240.96 165.32 L241.11 165.18 L241.26 165.04 L241.41 164.9 L241.56 164.76 L241.71 164.62 L241.86 164.48 L242.01 165.11 L242.16 165.74 L242.31 166.37 L242.46 167 L242.61 167.63 L242.77 168.26 L242.92 168.89 L243.07 169.52 L243.22 169.8 L243.37 170.08 L243.52 170.36 L243.67 170.64 L243.82 170.92 L243.97 171.2 L244.12 171.48 L244.27 171.76 L244.42 171.27 L244.57 170.78 L244.72 170.29 L244.87 169.8 L245.02 169.31 L245.17 168.82 L245.32 168.33 L245.47 167.84 L245.62 168.19 L245.77 168.54 L245.92 168.89 L246.07 169.24 L246.22 169.59 L246.37 169.94 L246.52 170.29 L246.67 170.64 L246.82 170.85 L246.97 171.06 L247.12 171.27 L247.27 171.48 L247.42 171.69 L247.57 171.9 L247.72 172.11 L247.87 172.32 L248.02 172.11 L248.17 171.9 L248.32 171.69 L248.47 171.48 L248.62 171.27 L248.77 171.06 L248.92 170.85 L249.07 170.64 L249.22 170.36 L249.37 170.08 L249.52 169.8 L249.67 169.52 L249.82 169.24 L249.97 168.96 L250.12 168.68 L250.27 168.4 L250.42 168.12 L250.57 167.84 L250.72 167.56 L250.87 167.28 L251.02 167 L251.17 166.72 L251.32 166.44 L251.47 166.16 L251.62 166.37 L251.77 166.58 L251.92 166.79 L252.07 167 L252.22 167.21 L252.37 167.42 L252.52 167.63 L252.67 167.84 L252.82 167.98 L252.97 168.12 L253.12 168.26 L253.27 168.4 L253.42 168.54 L253.57 168.68 L253.73 168.82 L253.88 168.96 L254.03 169.13 L254.18 169.31 L254.33 169.48 L254.48 169.66 L254.63 169.83 L254.78 170.01 L254.93 170.18 L255.08 170.36 L255.23 170.6 L255.38 170.85 L255.53 171.09 L255.68 171.34 L255.83 171.58 L255.98 171.83 L256.13 172.07 L256.28 172.32 L256.43 171.48 L256.58 170.64 L256.73 169.8 L256.88 168.96 L257.03 168.12 L257.18 167.28 L257.33 166.44 L257.48 165.6 L257.63 165.32 L257.78 165.04 L257.93 164.76 L258.08 164.48 L258.23 164.2 L258.38 163.92 L258.53 163.64 L258.68 163.36 L258.83 163.64 L258.98 163.92 L259.13 164.2 L259.28 164.48 L259.43 164.76 L259.58 165.04 L259.73 165.32 L259.88 165.6 L260.03 165.67 L260.18 165.74 L260.33 165.81 L260.48 165.88 L260.63 165.95 L260.78 166.02 L260.93 166.09 L261.08 166.16 L261.23 166.23 L261.38 166.3 L261.53 166.37 L261.68 166.44 L261.83 166.51 L261.98 166.58 L262.13 166.65 L262.28 166.72 L262.43 167 L262.58 167.28 L262.73 167.56 L262.88 167.84 L263.03 168.12 L263.18 168.4 L263.33 168.68 L263.48 168.96 L263.63 169.24 L263.78 169.52 L263.93 169.8 L264.08 170.08 L264.23 170.36 L264.38 170.64 L264.53 170.92 L264.69 171.2 L264.84 171.55 L264.99 171.9 L265.14 172.25 L265.29 172.6 L265.44 172.95 L265.59 173.3 L265.74 173.65 L265.89 174 L266.04 174.28 L266.19 174.56 L266.34 174.84 L266.49 175.12 L266.64 175.4 L266.79 175.68 L266.94 175.96 L267.09 176.24 L267.24 175.4 L267.39 174.56 L267.54 173.72 L267.69 172.88 L267.84 172.04 L267.99 171.2 L268.14 170.36 L268.29 169.52 L268.44 169.87 L268.59 170.22 L268.74 170.57 L268.89 170.92 L269.04 171.27 L269.19 171.62 L269.34 171.97 L269.49 172.32 L269.64 172.6 L269.79 172.88 L269.94 173.16 L270.09 173.44 L270.24 173.72 L270.39 174 L270.54 174.28 L270.69 174.56 L270.84 174.07 L270.99 173.58 L271.14 173.09 L271.29 172.6 L271.44 172.11 L271.59 171.62 L271.74 171.13 L271.89 170.64 L272.04 170.57 L272.19 170.5 L272.34 170.43 L272.49 170.36 L272.64 170.29 L272.79 170.22 L272.94 170.15 L273.09 170.08 L273.24 170.64 L273.39 171.2 L273.54 171.76 L273.69 172.32 L273.84 172.88 L273.99 173.44 L274.14 174 L274.29 174.56 L274.44 173.79 L274.59 173.02 L274.74 172.25 L274.89 171.48 L275.04 170.71 L275.19 169.94 L275.34 169.17 L275.5 168.4 L275.65 169.03 L275.8 169.66 L275.95 170.29 L276.1 170.92 L276.25 171.55 L276.4 172.18 L276.55 172.81 L276.7 173.44 L276.85 172.81 L277 172.18 L277.15 171.55 L277.3 170.92 L277.45 170.29 L277.6 169.66 L277.75 169.03 L277.9 168.4 L278.05 168.33 L278.2 168.26 L278.35 168.19 L278.5 168.12 L278.65 168.05 L278.8 167.98 L278.95 167.91 L279.1 167.84 L279.25 168.12 L279.4 168.4 L279.55 168.68 L279.7 168.96 L279.85 169.24 L280 169.52 L280.15 169.8 L280.3 170.08 L280.45 170.57 L280.6 171.06 L280.75 171.55 L280.9 172.04 L281.05 172.53 L281.2 173.02 L281.35 173.51 L281.5 174 L281.65 174.35 L281.8 174.7 L281.95 175.05 L282.1 175.4 L282.25 175.75 L282.4 176.1 L282.55 176.45 L282.7 176.8 L282.85 175.96 L283 175.12 L283.15 174.28 L283.3 173.44 L283.45 172.6 L283.6 171.76 L283.75 170.92 L283.9 170.08 L284.05 170.29 L284.2 170.5 L284.35 170.71 L284.5 170.92 L284.65 171.13 L284.8 171.34 L284.95 171.55 L285.1 171.76 L285.25 171.55 L285.4 171.34 L285.55 171.13 L285.7 170.92 L285.85 170.71 L286 170.5 L286.15 170.29 L286.3 170.08 L286.46 169.94 L286.61 169.8 L286.76 169.66 L286.91 169.52 L287.06 169.38 L287.21 169.24 L287.36 169.1 L287.51 168.96 L287.66 168.82 L287.81 168.68 L287.96 168.54 L288.11 168.4 L288.26 168.26 L288.41 168.12 L288.56 167.98 L288.71 167.84 L288.86 167.77 L289.01 167.7 L289.16 167.63 L289.31 167.56 L289.46 167.49 L289.61 167.42 L289.76 167.35 L289.91 167.28 L290.06 167.66 L290.21 168.05 L290.36 168.43 L290.51 168.82 L290.66 169.2 L290.81 169.59 L290.96 169.97 L291.11 170.36 L291.26 170.64 L291.41 170.92 L291.56 171.2 L291.71 171.48 L291.86 171.76 L292.01 172.04 L292.16 172.32 L292.31 172.6 L292.46 172.84 L292.61 173.09 L292.76 173.33 L292.91 173.58 L293.06 173.82 L293.21 174.07 L293.36 174.31 L293.51 174.56 L293.66 173.51 L293.81 172.46 L293.96 171.41 L294.11 170.36 L294.26 169.31 L294.41 168.26M294.71 166.16 L294.86 166.33 L295.01 166.51 L295.16 166.68 L295.31 166.86 L295.46 167.03 L295.61 167.21 L295.76 167.38 L295.91 167.56 L296.06 167.94 L296.21 168.33 L296.36 168.71 L296.51 169.1 L296.66 169.48 L296.81 169.87 L296.96 170.25 L297.11 170.64 L297.27 170.92 L297.42 171.2 L297.57 171.48 L297.72 171.76 L297.87 172.04 L298.02 172.32 L298.17 172.6 L298.32 172.88 L298.47 172.32 L298.62 171.76 L298.77 171.2 L298.92 170.64 L299.07 170.08 L299.22 169.52 L299.37 168.96 L299.52 168.4 L299.67 168.19 L299.82 167.98 L299.97 167.77 L300.12 167.56 L300.27 167.35 L300.42 167.14 L300.57 166.93 L300.72 166.72M300.87 167.28 L301.02 167.84 L301.17 168.4 L301.32 168.96 L301.47 169.52 L301.62 170.08 L301.77 170.64 L301.92 171.2 L302.07 171.2 L302.22 171.2 L302.37 171.2 L302.52 171.2 L302.67 171.2 L302.82 171.2 L302.97 171.2 L303.12 171.2 L303.27 170.64 L303.42 170.08 L303.57 169.52 L303.72 168.96 L303.87 168.4 L304.02 167.84 L304.17 167.28 L304.32 166.72 L304.47 166.58 L304.62 166.44 L304.77 166.3 L304.92 166.16 L305.07 166.02 L305.22 165.88 L305.37 165.74 L305.52 165.6 L305.67 165.74 L305.82 165.88 L305.97 166.02 L306.12 166.16 L306.27 166.3 L306.42 166.44 L306.57 166.58 L306.72 166.72 L306.87 166.58 L307.02 166.44 L307.17 166.3 L307.32 166.16 L307.47 166.02 L307.62 165.88 L307.77 165.74 L307.92 165.6 L308.07 166.02 L308.23 166.44 L308.38 166.86 L308.53 167.28 L308.68 167.7 L308.83 168.12 L308.98 168.54 L309.13 168.96 L309.28 169.38 L309.43 169.8 L309.58 170.22 L309.73 170.64 L309.88 171.06 L310.03 171.48 L310.18 171.9 L310.33 172.32 L310.48 172.63 L310.63 172.95 L310.78 173.26 L310.93 173.58 L311.08 173.89 L311.23 174.21 L311.38 174.52 L311.53 174.84 L311.68 175.05 L311.83 175.26 L311.98 175.47 L312.13 175.68 L312.28 175.89 L312.43 176.1 L312.58 176.31 L312.73 176.52 L312.88 176.62 L313.03 176.73 L313.18 176.83 L313.33 176.94 L313.48 177.04 L313.63 177.15 L313.78 177.25 L313.93 177.36 L314.08 177.15 L314.23 176.94 L314.38 176.73 L314.53 176.52 L314.68 176.31 L314.83 176.1 L314.98 175.89 L315.13 175.68 L315.28 175.47 L315.43 175.26 L315.58 175.05 L315.73 174.84 L315.88 174.63 L316.03 174.42 L316.18 174.21 L316.33 174 L316.48 173.37 L316.63 172.74M318.13 179.18 L318.28 181.73 L318.43 184.29 L318.58 186.84 L318.73 189.4 L318.88 195.53 L319.03 201.65 L319.19 207.78 L319.34 213.9 L319.49 220.02M319.94 238.4 L320.09 238.22 L320.24 238.05M320.84 237.35 L320.99 237.18 L321.14 237M322.34 169.52 L322.49 169.45 L322.64 169.38 L322.79 169.31 L322.94 169.24 L323.09 169.17 L323.24 169.1 L323.39 169.03 L323.54 168.96 L323.69 168.89 L323.84 168.82 L323.99 168.75 L324.14 168.68 L324.29 168.61 L324.44 168.54 L324.59 168.47M326.24 175.4 L326.39 176.1 L326.54 176.8 L326.69 177.5 L326.84 178.2 L326.99 178.9 L327.14 179.6 L327.29 179 L327.44 178.41 L327.59 177.81 L327.74 177.22 L327.89 176.62 L328.04 176.03 L328.19 175.43 L328.34 174.84 L328.49 174.17 L328.64 173.51 L328.79 172.84 L328.94 172.18M329.54 169.52 L329.69 169.38 L329.84 169.24 L330 169.1 L330.15 168.96 L330.3 168.82 L330.45 168.68 L330.6 168.54 L330.75 168.4 L330.9 168.92 L331.05 169.45 L331.2 169.97 L331.35 170.5 L331.5 171.02 L331.65 171.55 L331.8 172.07 L331.95 172.6 L332.1 173.12 L332.25 173.65M335.55 167 L335.7 166.75 L335.85 166.51" fill="none" stroke="#0a0aaa" stroke-width="0.52" stroke-linejoin="round" stroke-opacity="0.5"/>
<polyline points="221.45,170.92 222.65,158.6 223.85,156.08 225.05,158.04 226.25,163.92 227.45,165.04 228.65,158.6 229.85,153.84 231.05,152.16 232.26,152.72 233.46,153.84 234.66,155.24 235.86,155.8 237.06,154.68 238.26,153.28 239.46,153.84 240.66,154.4 241.86,155.24 243.07,156.08 244.27,156.64 245.47,156.92 246.67,156.92 247.87,156.36 249.07,155.8 250.27,155.52 251.47,155.24 252.67,154.68 253.88,154.4 255.08,153.84 256.28,153.56 257.48,153.56 258.68,153.84 259.88,154.68 261.08,155.8 262.28,157.2 263.48,158.6 264.69,160 265.89,161.4 267.09,162.24 268.29,162.52 269.49,161.96 270.69,163.08 271.89,163.92 273.09,161.96 274.29,159.44 275.5,163.92 276.7,165.04 277.9,158.04 279.1,160.84 280.3,164.48 281.5,165.32 282.7,165.32 283.9,164.76 285.1,164.48 286.3,163.92 287.51,163.36 288.71,162.52 289.91,162.24 291.11,163.36 292.31,164.2 293.51,165.04 294.71,165.04 295.91,165.04 297.11,165.32 298.32,165.32 299.52,165.6 300.72,165.74 301.92,165.32 303.12,164.48 304.32,163.08 305.52,162.24 306.72,161.96 307.92,162.52 309.13,164.2 310.33,167 311.53,169.8 312.73,171.76 313.93,172.88 315.13,172.6 316.33,171.48 317.53,169.24 318.73,183.8 319.94,237 321.14,238.4 322.34,167 323.54,167.56 324.74,168.12 325.94,172.6 327.14,175.96 328.34,172.6 329.54,168.12 330.75,166.44 331.95,170.36 333.15,175.96 334.35,170.36 335.55,165.88 336.75,165.04 337.95,165.04 339.15,169.24 340.35,172.6" fill="none" stroke="#d43a4c" stroke-width="0.4" stroke-linejoin="round"/>
<rect x="216.5" y="228.25" width="34" height="12.6" rx="0.8" fill="#fff" fill-opacity="0.8" stroke="#e2e2e2" stroke-width="0.5"/>
<line x1="218.8" x2="226.9" y1="231.85" y2="231.85" stroke="#0a0aaa" stroke-width="0.52"/>
<line x1="218.8" x2="226.9" y1="237.4" y2="237.4" stroke="#d43a4c" stroke-width="0.4"/>
<text transform="translate(230.1,233.2) rotate(0.3) scale(0.09400,0.1)" font-size="38.6">actual</text>
<text transform="translate(230.1,238.75) rotate(0.3) scale(0.09400,0.1)" font-size="38.6">prediction</text>
<path d="M215.5 148.4H346.3M215.5 243.15H346.3" fill="none" stroke="#bebebe" stroke-width="1" stroke-linecap="square"/>
<path d="M215.5 148.4V243.15M346.3 148.4V243.15" fill="none" stroke="#c8c8c8" stroke-width="1" stroke-linecap="square"/>
<line x1="221.45" x2="221.45" y1="243.65" y2="244.75" stroke="#999" stroke-width="0.4"/>
<text transform="translate(221.45,247.8) rotate(0.3) scale(0.09400,0.1)" font-size="39.5" text-anchor="middle">0</text>
<line x1="245.47" x2="245.47" y1="243.65" y2="244.75" stroke="#999" stroke-width="0.4"/>
<text transform="translate(245.47,247.8) rotate(0.3) scale(0.09400,0.1)" font-size="39.5" text-anchor="middle">20</text>
<line x1="269.49" x2="269.49" y1="243.65" y2="244.75" stroke="#999" stroke-width="0.4"/>
<text transform="translate(269.49,247.8) rotate(0.3) scale(0.09400,0.1)" font-size="39.5" text-anchor="middle">40</text>
<line x1="293.51" x2="293.51" y1="243.65" y2="244.75" stroke="#999" stroke-width="0.4"/>
<text transform="translate(293.51,247.8) rotate(0.3) scale(0.09400,0.1)" font-size="39.5" text-anchor="middle">60</text>
<line x1="317.53" x2="317.53" y1="243.65" y2="244.75" stroke="#999" stroke-width="0.4"/>
<text transform="translate(317.53,247.8) rotate(0.3) scale(0.09400,0.1)" font-size="39.5" text-anchor="middle">80</text>
<line x1="341.56" x2="341.56" y1="243.65" y2="244.75" stroke="#999" stroke-width="0.4"/>
<text transform="translate(341.56,247.8) rotate(0.3) scale(0.09400,0.1)" font-size="39.5" text-anchor="middle">100</text>
<line x1="213.9" x2="215" y1="231.4" y2="231.4" stroke="#999" stroke-width="0.4"/>
<text transform="translate(214,233.3) rotate(0.3) scale(0.09400,0.1)" font-size="39.5" text-anchor="end">0.45</text>
<line x1="213.9" x2="215" y1="217.4" y2="217.4" stroke="#999" stroke-width="0.4"/>
<text transform="translate(214,219.3) rotate(0.3) scale(0.09400,0.1)" font-size="39.5" text-anchor="end">0.50</text>
<line x1="213.9" x2="215" y1="203.4" y2="203.4" stroke="#999" stroke-width="0.4"/>
<text transform="translate(214,205.3) rotate(0.3) scale(0.09400,0.1)" font-size="39.5" text-anchor="end">0.55</text>
<line x1="213.9" x2="215" y1="189.4" y2="189.4" stroke="#999" stroke-width="0.4"/>
<text transform="translate(214,191.3) rotate(0.3) scale(0.09400,0.1)" font-size="39.5" text-anchor="end">0.60</text>
<line x1="213.9" x2="215" y1="175.4" y2="175.4" stroke="#999" stroke-width="0.4"/>
<text transform="translate(214,177.3) rotate(0.3) scale(0.09400,0.1)" font-size="39.5" text-anchor="end">0.65</text>
<line x1="213.9" x2="215" y1="161.4" y2="161.4" stroke="#999" stroke-width="0.4"/>
<text transform="translate(214,163.3) rotate(0.3) scale(0.09400,0.1)" font-size="39.5" text-anchor="end">0.70</text>
<text transform="translate(281.1,146.9) rotate(0.3) scale(0.09400,0.1)" font-size="49.5" text-anchor="middle">TOP_METAL_LSTM</text>
<text transform="translate(280.9,252.15) rotate(0.3) scale(0.09400,0.1)" font-size="39.5" text-anchor="middle">TIME(100ms)</text>
<text transform="translate(203.6,196.08) rotate(-90.3) scale(0.09400,0.1)" font-size="38.31" text-anchor="middle">CURR(A)</text>
</g>
<g>
<polyline points="420.64,155.18 421.84,155.54 423.04,156.8 424.24,156.08 425.44,155.18 426.64,155.9 427.84,155.18 429.04,155.54 430.24,154.82 431.44,154.64 432.64,155.18 433.84,156.08 435.04,156.08 436.24,156.8 437.44,155.9 438.64,156.44 439.84,156.8 441.04,157.34 442.24,156.44 443.44,156.8 444.64,157.34 445.84,156.8 447.04,157.34 448.25,157.34 449.45,157.16 450.65,156.62 451.85,156.62 453.05,156.44 454.25,156.62 455.45,157.16 456.65,156.62 457.85,157.16 459.05,157.34 460.25,157.16 461.45,156.98 462.65,157.34 463.85,158.24 465.05,156.08 466.25,157.7 467.45,219.8 468.65,187.4 469.85,155.9 471.05,154.64 472.25,155.18 473.45,155.54 474.65,155.54 475.85,155.9 477.05,155.9 478.25,155.9 479.45,155.9 480.65,156.26 481.85,156.98 483.05,157.34 484.25,156.62 485.45,155.9 486.65,155.54 487.85,155.18 489.05,155.18 490.25,155.18 491.45,155.18 492.65,155.18 493.85,155.18 495.05,155.18 496.25,155.36 497.45,156.26 498.65,158.96 499.85,156.26 501.05,157.16 502.25,157.7 503.45,231.5 504.65,185.6 505.85,182 507.05,155.18 508.25,155.54 509.45,155.72 510.65,155.72 511.85,156.08 513.06,156.44 514.26,156.8 515.46,157.7 516.66,158.6 517.86,159.32 519.06,158.06 520.26,158.96 521.46,157.52 522.66,158.78 523.86,160.04 525.06,161.3 526.26,162.2 527.46,236.9 528.66,236 529.86,159.14 531.06,158.96 532.26,158.96 533.46,159.14 534.66,159.5 535.86,160.04 537.06,160.76 538.26,161.66 539.46,162.56" fill="none" stroke="#0a0aaa" stroke-width="0.52" stroke-linejoin="round" stroke-opacity="0.5"/>
<path d="M420.64 155.18 L420.79 155.23 L420.94 155.27 L421.09 155.31 L421.24 155.36 L421.39 155.41 L421.54 155.45 L421.69 155.5 L421.84 155.54 L421.99 155.7 L422.14 155.86 L422.29 156.01 L422.44 156.17 L422.59 156.33 L422.74 156.49 L422.89 156.64 L423.04 156.8 L423.19 156.71 L423.34 156.62 L423.49 156.53 L423.64 156.44 L423.79 156.35 L423.94 156.26 L424.09 156.17 L424.24 156.08 L424.39 155.97 L424.54 155.86 L424.69 155.74 L424.84 155.63 L424.99 155.52 L425.14 155.41 L425.29 155.29 L425.44 155.18 L425.59 155.27 L425.74 155.36 L425.89 155.45 L426.04 155.54 L426.19 155.63 L426.34 155.72 L426.49 155.81 L426.64 155.9 L426.79 155.81 L426.94 155.72 L427.09 155.63 L427.24 155.54 L427.39 155.45 L427.54 155.36 L427.69 155.27 L427.84 155.18 L427.99 155.23 L428.14 155.27 L428.29 155.31 L428.44 155.36 L428.59 155.41 L428.74 155.45 L428.89 155.5 L429.04 155.54 L429.19 155.45 L429.34 155.36 L429.49 155.27 L429.64 155.18 L429.79 155.09 L429.94 155 L430.09 154.91 L430.24 154.82 L430.39 154.8 L430.54 154.78 L430.69 154.75 L430.84 154.73 L430.99 154.71 L431.14 154.69 L431.29 154.66 L431.44 154.64 L431.59 154.71 L431.74 154.78 L431.89 154.84 L432.04 154.91 L432.19 154.98 L432.34 155.05 L432.49 155.11 L432.64 155.18 L432.79 155.29 L432.94 155.41 L433.09 155.52 L433.24 155.63 L433.39 155.74 L433.54 155.86 L433.69 155.97 L433.84 156.08 L433.99 156.08 L434.14 156.08 L434.29 156.08 L434.44 156.08 L434.59 156.08 L434.74 156.08 L434.89 156.08 L435.04 156.08 L435.19 156.17 L435.34 156.26 L435.49 156.35 L435.64 156.44 L435.79 156.53 L435.94 156.62 L436.09 156.71 L436.24 156.8 L436.39 156.69 L436.54 156.58 L436.69 156.46 L436.84 156.35 L436.99 156.24 L437.14 156.12 L437.29 156.01 L437.44 155.9 L437.59 155.97 L437.74 156.03 L437.89 156.1 L438.04 156.17 L438.19 156.24 L438.34 156.31 L438.49 156.37 L438.64 156.44 L438.79 156.49 L438.94 156.53 L439.09 156.57 L439.24 156.62 L439.39 156.67 L439.54 156.71 L439.69 156.75 L439.84 156.8 L439.99 156.87 L440.14 156.94 L440.29 157 L440.44 157.07 L440.59 157.14 L440.74 157.21 L440.89 157.27 L441.04 157.34 L441.19 157.23 L441.34 157.12 L441.49 157 L441.64 156.89 L441.79 156.78 L441.94 156.66 L442.09 156.55 L442.24 156.44 L442.39 156.49 L442.54 156.53 L442.69 156.57 L442.84 156.62 L442.99 156.67 L443.14 156.71 L443.29 156.75 L443.44 156.8 L443.59 156.87 L443.74 156.94 L443.89 157 L444.04 157.07 L444.19 157.14 L444.34 157.21 L444.49 157.27 L444.64 157.34 L444.79 157.27 L444.94 157.21 L445.09 157.14 L445.24 157.07 L445.39 157 L445.54 156.94 L445.69 156.87 L445.84 156.8 L445.99 156.87 L446.14 156.94 L446.29 157 L446.44 157.07 L446.59 157.14 L446.74 157.21 L446.89 157.27 L447.04 157.34 L447.19 157.34 L447.34 157.34 L447.5 157.34 L447.65 157.34 L447.8 157.34 L447.95 157.34 L448.1 157.34 L448.25 157.34 L448.4 157.32 L448.55 157.3 L448.7 157.27 L448.85 157.25 L449 157.23 L449.15 157.2 L449.3 157.18 L449.45 157.16 L449.6 157.09 L449.75 157.03 L449.9 156.96 L450.05 156.89 L450.2 156.82 L450.35 156.75 L450.5 156.69 L450.65 156.62 L450.8 156.62 L450.95 156.62 L451.1 156.62 L451.25 156.62 L451.4 156.62 L451.55 156.62 L451.7 156.62 L451.85 156.62 L452 156.6 L452.15 156.57 L452.3 156.55 L452.45 156.53 L452.6 156.51 L452.75 156.49 L452.9 156.46 L453.05 156.44 L453.2 156.46 L453.35 156.49 L453.5 156.51 L453.65 156.53 L453.8 156.55 L453.95 156.57 L454.1 156.6 L454.25 156.62 L454.4 156.69 L454.55 156.75 L454.7 156.82 L454.85 156.89 L455 156.96 L455.15 157.03 L455.3 157.09 L455.45 157.16 L455.6 157.09 L455.75 157.03 L455.9 156.96 L456.05 156.89 L456.2 156.82 L456.35 156.75 L456.5 156.69 L456.65 156.62 L456.8 156.69 L456.95 156.75 L457.1 156.82 L457.25 156.89 L457.4 156.96 L457.55 157.03 L457.7 157.09 L457.85 157.16 L458 157.18 L458.15 157.2 L458.3 157.23 L458.45 157.25 L458.6 157.27 L458.75 157.3 L458.9 157.32 L459.05 157.34 L459.2 157.32 L459.35 157.3 L459.5 157.27 L459.65 157.25 L459.8 157.23 L459.95 157.2 L460.1 157.18 L460.25 157.16 L460.4 157.14 L460.55 157.12 L460.7 157.09 L460.85 157.07 L461 157.05 L461.15 157.03 L461.3 157 L461.45 156.98 L461.6 157.03 L461.75 157.07 L461.9 157.12 L462.05 157.16 L462.2 157.21 L462.35 157.25 L462.5 157.3 L462.65 157.34 L462.8 157.45 L462.95 157.56 L463.1 157.68 L463.25 157.79 L463.4 157.9 L463.55 158.02 L463.7 158.13 L463.85 158.24 L464 157.97 L464.15 157.7 L464.3 157.43 L464.45 157.16 L464.6 156.89 L464.75 156.62 L464.9 156.35 L465.05 156.08 L465.2 156.28 L465.35 156.49 L465.5 156.69 L465.65 156.89 L465.8 157.09 L465.95 157.3 L466.1 157.5 L466.25 157.7M470 155.74 L470.15 155.59 L470.3 155.43 L470.45 155.27 L470.6 155.11 L470.75 154.96 L470.9 154.8 L471.05 154.64 L471.2 154.71 L471.35 154.78 L471.5 154.84 L471.65 154.91 L471.8 154.98 L471.95 155.05 L472.1 155.11 L472.25 155.18 L472.4 155.23 L472.55 155.27 L472.7 155.31 L472.85 155.36 L473 155.41 L473.15 155.45 L473.3 155.5 L473.45 155.54 L473.6 155.54 L473.75 155.54 L473.9 155.54 L474.05 155.54 L474.2 155.54 L474.35 155.54 L474.5 155.54 L474.65 155.54 L474.8 155.59 L474.95 155.63 L475.1 155.68 L475.25 155.72 L475.4 155.77 L475.55 155.81 L475.7 155.86 L475.85 155.9 L476 155.9 L476.15 155.9 L476.3 155.9 L476.45 155.9 L476.6 155.9 L476.75 155.9 L476.9 155.9 L477.05 155.9 L477.2 155.9 L477.35 155.9 L477.5 155.9 L477.65 155.9 L477.8 155.9 L477.95 155.9 L478.1 155.9 L478.25 155.9 L478.4 155.9 L478.55 155.9 L478.7 155.9 L478.85 155.9 L479 155.9 L479.15 155.9 L479.3 155.9 L479.45 155.9 L479.6 155.94 L479.75 155.99 L479.9 156.04 L480.05 156.08 L480.2 156.12 L480.35 156.17 L480.5 156.22 L480.65 156.26 L480.8 156.35 L480.95 156.44 L481.1 156.53 L481.25 156.62 L481.4 156.71 L481.55 156.8 L481.7 156.89 L481.85 156.98 L482 157.03 L482.15 157.07 L482.3 157.12 L482.45 157.16 L482.6 157.21 L482.75 157.25 L482.9 157.3 L483.05 157.34 L483.2 157.25 L483.35 157.16 L483.5 157.07 L483.65 156.98 L483.8 156.89 L483.95 156.8 L484.1 156.71 L484.25 156.62 L484.4 156.53 L484.55 156.44 L484.7 156.35 L484.85 156.26 L485 156.17 L485.15 156.08 L485.3 155.99 L485.45 155.9 L485.6 155.86 L485.75 155.81 L485.9 155.77 L486.05 155.72 L486.2 155.68 L486.35 155.63 L486.5 155.59 L486.65 155.54 L486.8 155.5 L486.95 155.45 L487.1 155.41 L487.25 155.36M497.9 157.27 L498.05 157.61 L498.2 157.95 L498.35 158.29 L498.5 158.62 L498.65 158.96 L498.8 158.62 L498.95 158.29 L499.1 157.95 L499.25 157.61 L499.4 157.27 L499.55 156.94 L499.7 156.6 L499.85 156.26 L500 156.37 L500.15 156.49 L500.3 156.6 L500.45 156.71 L500.6 156.82 L500.75 156.94 L500.9 157.05 L501.05 157.16 L501.2 157.23 L501.35 157.3 L501.5 157.36 L501.65 157.43 L501.8 157.5 L501.95 157.56 L502.1 157.63 L502.25 157.7 L502.4 166.93 L502.55 176.15 L502.7 185.38M504.05 208.55 L504.2 202.81 L504.35 197.08 L504.5 191.34 L504.65 185.6 L504.8 185.15M505.4 183.35 L505.55 182.9 L505.7 182.45 L505.85 182 L506 178.65 L506.15 175.3 L506.3 171.94 L506.45 168.59 L506.6 165.24M515.16 157.48 L515.31 157.59 L515.46 157.7 L515.61 157.81 L515.76 157.93 L515.91 158.04 L516.06 158.15 L516.21 158.26 L516.36 158.38 L516.51 158.49 L516.66 158.6 L516.81 158.69 L516.96 158.78 L517.11 158.87 L517.26 158.96 L517.41 159.05 L517.56 159.14 L517.71 159.23 L517.86 159.32 L518.01 159.16 L518.16 159.01 L518.31 158.85 L518.46 158.69 L518.61 158.53 L518.76 158.38 L518.91 158.22 L519.06 158.06 L519.21 158.17 L519.36 158.28 L519.51 158.4 L519.66 158.51 L519.81 158.62 L519.96 158.74 L520.11 158.85 L520.26 158.96 L520.41 158.78 L520.56 158.6 L520.71 158.42 L520.86 158.24 L521.01 158.06 L521.16 157.88 L521.31 157.7 L521.46 157.52 L521.61 157.68 L521.76 157.84 L521.91 157.99 L522.06 158.15 L522.21 158.31 L522.36 158.47 L522.51 158.62 L522.66 158.78 L522.81 158.94 L522.96 159.09 L523.11 159.25 L523.26 159.41 L523.41 159.57 L523.56 159.73 L523.71 159.88 L523.86 160.04 L524.01 160.2 L524.16 160.36 L524.31 160.51 L524.46 160.67 L524.61 160.83 L524.76 160.99 L524.91 161.14 L525.06 161.3 L525.21 161.41 L525.36 161.53 L525.51 161.64 L525.66 161.75 L525.81 161.86 L525.96 161.98 L526.11 162.09 L526.26 162.2 L526.41 171.54 L526.56 180.88 L526.71 190.21 L526.86 199.55 L527.01 208.89 L527.16 218.23 L527.31 227.56 L527.46 236.9 L527.61 236.79 L527.76 236.68 L527.91 236.56M528.66 236 L528.81 226.39M529.86 159.14 L530.01 159.12 L530.16 159.1 L530.31 159.07 L530.46 159.05 L530.61 159.03 L530.76 159 L530.91 158.98 L531.06 158.96 L531.21 158.96 L531.36 158.96 L531.51 158.96 L531.66 158.96 L531.81 158.96 L531.96 158.96 L532.11 158.96 L532.26 158.96 L532.41 158.98 L532.56 159 L532.71 159.03 L532.86 159.05 L533.01 159.07 L533.16 159.1 L533.31 159.12 L533.46 159.14 L533.61 159.19 L533.76 159.23 L533.91 159.28 L534.06 159.32 L534.21 159.37 L534.36 159.41 L534.51 159.46 L534.66 159.5 L534.81 159.57 L534.96 159.63 L535.11 159.7 L535.26 159.77 L535.41 159.84 L535.56 159.91 L535.71 159.97 L535.86 160.04 L536.01 160.13 L536.16 160.22 L536.31 160.31 L536.46 160.4 L536.61 160.49 L536.76 160.58 L536.91 160.67 L537.06 160.76 L537.21 160.87 L537.36 160.99 L537.51 161.1 L537.66 161.21 L537.81 161.32 L537.96 161.44 L538.11 161.55 L538.26 161.66 L538.41 161.77 L538.56 161.89 L538.71 162 L538.86 162.11 L539.01 162.22 L539.16 162.34 L539.31 162.45 L539.46 162.56" fill="none" stroke="#0a0aaa" stroke-width="0.52" stroke-linejoin="round" stroke-opacity="0.5"/>
<polyline points="420.64,153.02 421.84,153.02 423.04,153.02 424.24,153.02 425.44,153.02 426.64,153.38 427.84,153.02 429.04,153.2 430.24,153.02 431.44,153.2 432.64,153.38 433.84,154.1 435.04,154.64 436.24,155 437.44,155.18 438.64,154.46 439.84,154.28 441.04,154.28 442.24,154.64 443.44,155 444.64,155.18 445.84,155.18 447.04,154.82 448.25,154.64 449.45,154.82 450.65,155 451.85,155.18 453.05,155.18 454.25,155.36 455.45,155.54 456.65,155.54 457.85,155.54 459.05,155.54 460.25,155.54 461.45,155.54 462.65,155.54 463.85,155.18 465.05,153.92 466.25,155.9 467.45,221.6 468.65,188.3 469.85,155 471.05,152.3 472.25,152.12 473.45,152.48 474.65,153.02 475.85,153.38 477.05,153.74 478.25,153.92 479.45,154.1 480.65,154.46 481.85,154.82 483.05,155.18 484.25,154.82 485.45,154.64 486.65,154.82 487.85,155 489.05,155 490.25,155 491.45,155 492.65,155 493.85,155 495.05,155 496.25,155.18 497.45,155.9 498.65,156.8 499.85,155.18 501.05,153.92 502.25,153.02 503.45,232.4 504.65,190.1 505.85,173.9 507.05,155 508.25,155.54 509.45,155.9 510.65,155.9 511.85,156.08 513.06,156.44 514.26,156.8 515.46,156.98 516.66,157.16 517.86,156.8 519.06,156.26 520.26,156.44 521.46,156.44 522.66,157.34 523.86,158.24 525.06,158.78 526.26,159.5 527.46,229.7 528.66,239.6 529.86,158.06 531.06,156.44 532.26,156.98 533.46,157.52 534.66,157.88 535.86,158.06 537.06,157.88 538.26,157.7 539.46,157.52" fill="none" stroke="#d43a4c" stroke-width="0.4" stroke-linejoin="round"/>
<rect x="415.7" y="228.25" width="34" height="12.6" rx="0.8" fill="#fff" fill-opacity="0.8" stroke="#e2e2e2" stroke-width="0.5"/>
<line x1="418" x2="426.1" y1="231.85" y2="231.85" stroke="#0a0aaa" stroke-width="0.52"/>
<line x1="418" x2="426.1" y1="237.4" y2="237.4" stroke="#d43a4c" stroke-width="0.4"/>
<text transform="translate(429.3,233.2) rotate(0.3) scale(0.09400,0.1)" font-size="38.6">actual</text>
<text transform="translate(429.3,238.75) rotate(0.3) scale(0.09400,0.1)" font-size="38.6">prediction</text>
<path d="M414.7 148.4H545.4M414.7 243.15H545.4" fill="none" stroke="#bebebe" stroke-width="1" stroke-linecap="square"/>
<path d="M414.7 148.4V243.15M545.4 148.4V243.15" fill="none" stroke="#c8c8c8" stroke-width="1" stroke-linecap="square"/>
<line x1="420.64" x2="420.64" y1="243.65" y2="244.75" stroke="#999" stroke-width="0.4"/>
<text transform="translate(420.64,247.8) rotate(0.3) scale(0.09400,0.1)" font-size="39.5" text-anchor="middle">0</text>
<line x1="444.64" x2="444.64" y1="243.65" y2="244.75" stroke="#999" stroke-width="0.4"/>
<text transform="translate(444.64,247.8) rotate(0.3) scale(0.09400,0.1)" font-size="39.5" text-anchor="middle">20</text>
<line x1="468.65" x2="468.65" y1="243.65" y2="244.75" stroke="#999" stroke-width="0.4"/>
<text transform="translate(468.65,247.8) rotate(0.3) scale(0.09400,0.1)" font-size="39.5" text-anchor="middle">40</text>
<line x1="492.65" x2="492.65" y1="243.65" y2="244.75" stroke="#999" stroke-width="0.4"/>
<text transform="translate(492.65,247.8) rotate(0.3) scale(0.09400,0.1)" font-size="39.5" text-anchor="middle">60</text>
<line x1="516.66" x2="516.66" y1="243.65" y2="244.75" stroke="#999" stroke-width="0.4"/>
<text transform="translate(516.66,247.8) rotate(0.3) scale(0.09400,0.1)" font-size="39.5" text-anchor="middle">80</text>
<line x1="540.66" x2="540.66" y1="243.65" y2="244.75" stroke="#999" stroke-width="0.4"/>
<text transform="translate(540.66,247.8) rotate(0.3) scale(0.09400,0.1)" font-size="39.5" text-anchor="middle">100</text>
<line x1="413.1" x2="414.2" y1="233.3" y2="233.3" stroke="#999" stroke-width="0.4"/>
<text transform="translate(413.2,235.2) rotate(0.3) scale(0.09400,0.1)" font-size="39.5" text-anchor="end">0.5</text>
<line x1="413.1" x2="414.2" y1="215.3" y2="215.3" stroke="#999" stroke-width="0.4"/>
<text transform="translate(413.2,217.2) rotate(0.3) scale(0.09400,0.1)" font-size="39.5" text-anchor="end">0.6</text>
<line x1="413.1" x2="414.2" y1="197.3" y2="197.3" stroke="#999" stroke-width="0.4"/>
<text transform="translate(413.2,199.2) rotate(0.3) scale(0.09400,0.1)" font-size="39.5" text-anchor="end">0.7</text>
<line x1="413.1" x2="414.2" y1="179.3" y2="179.3" stroke="#999" stroke-width="0.4"/>
<text transform="translate(413.2,181.2) rotate(0.3) scale(0.09400,0.1)" font-size="39.5" text-anchor="end">0.8</text>
<line x1="413.1" x2="414.2" y1="161.3" y2="161.3" stroke="#999" stroke-width="0.4"/>
<text transform="translate(413.2,163.2) rotate(0.3) scale(0.09400,0.1)" font-size="39.5" text-anchor="end">0.9</text>
<text transform="translate(480.25,146.9) rotate(0.3) scale(0.09400,0.1)" font-size="49.5" text-anchor="middle">LOW_METAL_LSTM</text>
<text transform="translate(480.05,252.15) rotate(0.3) scale(0.09400,0.1)" font-size="39.5" text-anchor="middle">TIME(100ms)</text>
<text transform="translate(405.25,196.08) rotate(-90.3) scale(0.09400,0.1)" font-size="38.31" text-anchor="middle">CURR(A)</text>
</g>
<g>
<polyline points="22.23,367.37 23.43,341.25 24.63,341.25 25.83,354.31 27.03,367.37 28.22,367.37 29.42,354.31 30.62,366.18 31.82,341.25 33.02,347.19 34.22,363.81 35.41,373.3 36.61,374.49 37.81,361.43 39.01,361.43 40.21,362.62 41.41,357.87 42.6,354.31 43.8,347.19 45,341.25 46.2,341.25 47.4,346 48.6,363.81 49.79,346 50.99,346 52.19,354.31 53.39,368.55 54.59,373.3 55.79,376.86 56.98,360.25 58.18,346 59.38,356.68 60.58,369.74 61.78,354.31 62.98,341.25 64.17,342.44 65.37,372.12 66.57,354.31 67.77,341.25 68.97,341.25 70.17,349.56 71.36,361.43 72.56,363.81 73.76,363.21 74.96,361.43 76.16,346.48 77.36,357.87 78.55,364.4 79.75,373.9 80.95,357.87 82.15,342.44 83.71,372.12 85.2,340.07 86.4,370.93 87.6,324.63 88.8,360.25 90,340.07 91.2,370.93 92.4,334.13 93.59,370.93 94.55,356.68 95.75,342.44 96.95,341.25 98.15,341.25 99.35,348.38 100.54,363.81 101.32,372.71 103,363.81 104.2,351.94 105.4,369.74 106.12,372.71 107.31,373.3 108.51,373.9 109.71,373.3 110.91,372.12 112.11,373.3 113.31,372.71 114.5,373.3 115.7,371.52 116.9,372.12 118.1,340.07 119.3,346 120.5,330.57 121.69,338.88 122.89,341.25 124.09,341.25 125.29,354.31 126.49,372.12 127.69,340.07 128.88,360.25 130.08,346 131.28,348.38 132.48,354.31 133.68,370.93 134.88,354.31 136.07,341.25 137.27,340.07 138.47,359.06 139.67,325.82 140.87,291.4" fill="none" stroke="#0a0aaa" stroke-width="0.52" stroke-linejoin="round" stroke-opacity="0.5"/>
<path d="M22.53 360.84 L22.68 357.57 L22.83 354.31 L22.98 351.05 L23.13 347.78 L23.28 344.52 L23.43 341.25 L23.58 341.25 L23.73 341.25 L23.88 341.25 L24.03 341.25 L24.18 341.25 L24.33 341.25 L24.48 341.25 L24.63 341.25 L24.78 342.89 L24.93 344.52 L25.08 346.15 L25.23 347.78 L25.38 349.41 L25.53 351.05 L25.68 352.68 L25.83 354.31 L25.98 355.94 L26.13 357.57M27.03 367.37 L27.18 367.37 L27.32 367.37 L27.47 367.37 L27.62 367.37 L27.77 367.37 L27.92 367.37 L28.07 367.37 L28.22 367.37M29.12 357.57 L29.27 355.94 L29.42 354.31 L29.57 355.79 L29.72 357.28M30.92 359.95 L31.07 356.83 L31.22 353.72 L31.37 350.6 L31.52 347.48 L31.67 344.37 L31.82 341.25 L31.97 341.99 L32.12 342.74 L32.27 343.48 L32.42 344.22 L32.57 344.96 L32.72 345.7 L32.87 346.45 L33.02 347.19 L33.17 349.27 L33.32 351.34 L33.47 353.42 L33.62 355.5 L33.77 357.57M35.41 373.3 L35.56 373.45 L35.71 373.6 L35.86 373.75 L36.01 373.9 L36.16 374.04 L36.31 374.19 L36.46 374.34 L36.61 374.49M37.81 361.43 L37.96 361.43 L38.11 361.43 L38.26 361.43 L38.41 361.43 L38.56 361.43 L38.71 361.43 L38.86 361.43 L39.01 361.43 L39.16 361.58 L39.31 361.73 L39.46 361.88 L39.61 362.03 L39.76 362.17 L39.91 362.32 L40.06 362.47 L40.21 362.62 L40.36 362.03 L40.51 361.43 L40.66 360.84 L40.81 360.25 L40.96 359.65 L41.11 359.06 L41.26 358.46 L41.41 357.87 L41.56 357.43 L41.7 356.98 L41.85 356.54 L42 356.09 L42.15 355.65 L42.3 355.2 L42.45 354.76 L42.6 354.31 L42.75 353.42 L42.9 352.53 L43.05 351.64 L43.2 350.75 L43.35 349.86 L43.5 348.97 L43.65 348.08 L43.8 347.19 L43.95 346.45 L44.1 345.7 L44.25 344.96 L44.4 344.22 L44.55 343.48 L44.7 342.74 L44.85 341.99 L45 341.25 L45.15 341.25 L45.3 341.25 L45.45 341.25 L45.6 341.25 L45.75 341.25 L45.9 341.25 L46.05 341.25 L46.2 341.25 L46.35 341.85 L46.5 342.44 L46.65 343.03 L46.8 343.63 L46.95 344.22 L47.1 344.81 L47.25 345.41 L47.4 346 L47.55 348.23 L47.7 350.45 L47.85 352.68 L48 354.9 L48.15 357.13M49.79 346 L49.94 346 L50.09 346 L50.24 346 L50.39 346 L50.54 346 L50.69 346 L50.84 346 L50.99 346M51.29 348.08 L51.44 349.12 L51.59 350.16 L51.74 351.19 L51.89 352.23 L52.04 353.27 L52.19 354.31 L52.34 356.09 L52.49 357.87M59.23 355.35 L59.38 356.68 L59.53 358.32M61.18 362.03 L61.33 360.1 L61.48 358.17 L61.63 356.24 L61.78 354.31 L61.93 352.68 L62.08 351.05 L62.23 349.41 L62.38 347.78 L62.53 346.15 L62.68 344.52 L62.83 342.89 L62.98 341.25 L63.13 341.4 L63.28 341.55 L63.42 341.7 L63.57 341.85 L63.72 341.99 L63.87 342.14 L64.02 342.29 L64.17 342.44 L64.32 346.15 L64.47 349.86 L64.62 353.57 L64.77 357.28 L64.92 360.99 L65.07 364.7 L65.22 368.41 L65.37 372.12 L65.52 369.89 L65.67 367.66 L65.82 365.44 L65.97 363.21 L66.12 360.99 L66.27 358.76 L66.42 356.54 L66.57 354.31 L66.72 352.68 L66.87 351.05 L67.02 349.41 L67.17 347.78 L67.32 346.15 L67.47 344.52 L67.62 342.89 L67.77 341.25 L67.92 341.25 L68.07 341.25 L68.22 341.25 L68.37 341.25 L68.52 341.25 L68.67 341.25 L68.82 341.25 L68.97 341.25 L69.12 342.29 L69.27 343.33 L69.42 344.37 L69.57 345.41 L69.72 346.45 L69.87 347.48 L70.02 348.52 L70.17 349.56 L70.32 351.05 L70.47 352.53 L70.62 354.01 L70.76 355.5 L70.91 356.98 L71.06 358.46 L71.21 359.95 L71.36 361.43 L71.51 361.73 L71.66 362.03 L71.81 362.32 L71.96 362.62 L72.11 362.92 L72.26 363.21 L72.41 363.51 L72.56 363.81 L72.71 363.73 L72.86 363.66 L73.01 363.58 L73.16 363.51 L73.31 363.44 L73.46 363.36 L73.61 363.29 L73.76 363.21 L73.91 362.99 L74.06 362.77 L74.21 362.54 L74.36 362.32 L74.51 362.1 L74.66 361.88 L74.81 361.65 L74.96 361.43 L75.11 359.56 L75.26 357.69 L75.41 355.82 L75.56 353.95 L75.71 352.08 L75.86 350.21 L76.01 348.35 L76.16 346.48 L76.31 347.9 L76.46 349.32 L76.61 350.75 L76.76 352.17 L76.91 353.6 L77.06 355.02 L77.21 356.45 L77.36 357.87 L77.51 358.69 L77.66 359.5 L77.81 360.32 L77.95 361.14 L78.1 361.95 L78.25 362.77 L78.4 363.58 L78.55 364.4 L78.7 365.59 L78.85 366.77 L79 367.96 L79.15 369.15 L79.3 370.33 L79.45 371.52 L79.6 372.71 L79.75 373.9 L79.9 371.89 L80.05 369.89 L80.2 367.89 L80.35 365.88 L80.5 363.88 L80.65 361.88 L80.8 359.87 L80.95 357.87 L81.1 355.94 L81.25 354.01 L81.4 352.08 L81.55 350.16 L81.7 348.23 L81.85 346.3 L82 344.37 L82.15 342.44 L82.34 346.15 L82.54 349.86 L82.73 353.57 L82.93 357.28 L83.12 360.99 L83.32 364.7 L83.51 368.41 L83.71 372.12 L83.89 368.11 L84.08 364.1 L84.27 360.1 L84.46 356.09 L84.64 352.08 L84.83 348.08 L85.02 344.07 L85.2 340.07 L85.35 343.92 L85.5 347.78 L85.65 351.64 L85.8 355.5 L85.95 359.35 L86.1 363.21 L86.25 367.07 L86.4 370.93 L86.55 365.14 L86.7 359.35 L86.85 353.57 L87 347.78 L87.15 341.99 L87.3 336.21 L87.45 330.42 L87.6 324.63 L87.75 329.09 L87.9 333.54 L88.05 337.99 L88.2 342.44 L88.35 346.89 L88.5 351.34 L88.65 355.79 L88.8 360.25 L88.95 357.72 L89.1 355.2 L89.25 352.68 L89.4 350.16 L89.55 347.63 L89.7 345.11 L89.85 342.59 L90 340.07 L90.15 343.92 L90.3 347.78 L90.45 351.64 L90.6 355.5 L90.75 359.35 L90.9 363.21 L91.05 367.07 L91.2 370.93 L91.35 366.33M93.44 366.33 L93.59 370.93 L93.71 369.15 L93.83 367.37 L93.95 365.59 L94.07 363.81 L94.19 362.03 L94.31 360.25 L94.43 358.46 L94.55 356.68 L94.7 354.9 L94.85 353.12 L95 351.34 L95.15 349.56 L95.3 347.78 L95.45 346 L95.6 344.22 L95.75 342.44 L95.9 342.29 L96.05 342.14 L96.2 341.99 L96.35 341.85 L96.5 341.7 L96.65 341.55 L96.8 341.4 L96.95 341.25 L97.1 341.25 L97.25 341.25 L97.4 341.25 L97.55 341.25 L97.7 341.25 L97.85 341.25 L98 341.25 L98.15 341.25 L98.3 342.14 L98.45 343.03 L98.6 343.92 L98.75 344.81 L98.9 345.7 L99.05 346.59 L99.2 347.48 L99.35 348.38 L99.5 350.3 L99.65 352.23 L99.79 354.16 L99.94 356.09 L100.09 358.02 L100.24 359.95 L100.39 361.88 L100.54 363.81 L100.64 364.92 L100.74 366.03 L100.84 367.14 L100.93 368.26 L101.03 369.37 L101.13 370.48 L101.23 371.6 L101.32 372.71 L101.53 371.6 L101.74 370.48 L101.95 369.37 L102.16 368.26 L102.37 367.14 L102.58 366.03 L102.79 364.92 L103 363.81M104.05 353.42 L104.2 351.94 L104.35 354.16M105.4 369.74 L105.49 370.11 L105.58 370.48 L105.67 370.85 L105.76 371.22 L105.85 371.6 L105.94 371.97 L106.03 372.34 L106.12 372.71 L106.27 372.78 L106.42 372.86 L106.57 372.93 L106.72 373.01 L106.87 373.08 L107.01 373.15 L107.16 373.23 L107.31 373.3 L107.46 373.38 L107.61 373.45 L107.76 373.52 L107.91 373.6 L108.06 373.67 L108.21 373.75 L108.36 373.82 L108.51 373.9 L108.66 373.82 L108.81 373.75 L108.96 373.67 L109.11 373.6 L109.26 373.52 L109.41 373.45 L109.56 373.38 L109.71 373.3 L109.86 373.15 L110.01 373.01 L110.16 372.86 L110.31 372.71 L110.46 372.56 L110.61 372.41 L110.76 372.26 L110.91 372.12 L111.06 372.26 L111.21 372.41 L111.36 372.56 L111.51 372.71 L111.66 372.86 L111.81 373.01 L111.96 373.15 L112.11 373.3 L112.26 373.23 L112.41 373.15 L112.56 373.08 L112.71 373.01 L112.86 372.93 L113.01 372.86 L113.16 372.78 L113.31 372.71 L113.46 372.78 L113.61 372.86 L113.76 372.93 L113.91 373.01 L114.06 373.08 L114.2 373.15 L114.35 373.23 L114.5 373.3 L114.65 373.08 L114.8 372.86 L114.95 372.63 L115.1 372.41 L115.25 372.19 L115.4 371.97 L115.55 371.74 L115.7 371.52 L115.85 371.6 L116 371.67 L116.15 371.74 L116.3 371.82 L116.45 371.89 L116.6 371.97 L116.75 372.04 L116.9 372.12M121.69 338.88 L121.84 339.18 L121.99 339.47 L122.14 339.77 L122.29 340.07 L122.44 340.36 L122.59 340.66 L122.74 340.96 L122.89 341.25 L123.04 341.25 L123.19 341.25 L123.34 341.25 L123.49 341.25 L123.64 341.25 L123.79 341.25 L123.94 341.25 L124.09 341.25M130.08 346 L130.23 346.3 L130.38 346.59 L130.53 346.89 L130.68 347.19 L130.83 347.48 L130.98 347.78 L131.13 348.08 L131.28 348.38M136.07 341.25 L136.22 341.1 L136.37 340.96 L136.52 340.81 L136.67 340.66 L136.82 340.51 L136.97 340.36 L137.12 340.21 L137.27 340.07" fill="none" stroke="#0a0aaa" stroke-width="0.52" stroke-linejoin="round" stroke-opacity="0.5"/>
<polyline points="22.23,365.9 23.43,334.72 24.63,334.72 25.83,351.27 27.03,365.9 28.22,365.9 29.42,351.27 30.62,364.57 31.82,335.32 33.02,343.29 34.22,361.91 35.41,372.54 36.61,373.87 37.81,359.25 39.01,359.25 40.21,360.58 41.41,355.26 42.6,351.27 43.8,343.29 45,337.69 46.2,337.69 47.4,341.97 48.6,361.91 49.79,343.63 50.99,343.63 52.19,351.27 53.39,367.22 54.59,372.54 55.79,376.39 56.98,357.92 58.18,344.81 59.38,353.93 60.58,368.55 61.78,350.39 62.98,336.16 64.17,337.45 65.37,369.27 66.57,350.39 67.77,336.16 68.97,336.16 70.17,345.22 71.36,358.16 72.56,360.74 73.76,360.1 74.96,358.16 76.16,341.85 77.36,354.27 78.55,361.39 79.75,371.05 80.95,354.27 82.15,337.45 83.71,369.27 85.2,334.87 86.4,368.08 87.6,319.89 88.8,356.86 90,334.87 91.2,368.08 92.4,333.54 93.59,368.08 94.55,352.98 95.75,337.45 96.95,336.16 98.15,336.16 99.35,343.92 100.54,360.74 101.32,369.86 103,360.74 104.2,356.09 105.4,366.89 106.12,369.86 107.31,370.45 108.51,371.05 109.71,370.45 110.91,369.27 112.11,370.45 113.31,369.86 114.5,370.45 115.7,368.67 116.9,370.93 118.1,338.88 119.3,344.81 120.5,329.38 121.69,337.69 122.89,340.07 124.09,340.07 125.29,353.12 126.49,370.93 127.69,338.88 128.88,359.06 130.08,344.81 131.28,347.19 132.48,353.12 133.68,369.74 134.88,353.12 136.07,340.07 137.27,338.88 138.47,357.87 139.67,324.63 140.87,291.4" fill="none" stroke="#d43a4c" stroke-width="0.4" stroke-linejoin="round"/>
<rect x="16.9" y="367.15" width="34" height="12.6" rx="0.8" fill="#fff" fill-opacity="0.8" stroke="#e2e2e2" stroke-width="0.5"/>
<line x1="19.2" x2="27.3" y1="370.75" y2="370.75" stroke="#0a0aaa" stroke-width="0.52"/>
<line x1="19.2" x2="27.3" y1="376.3" y2="376.3" stroke="#d43a4c" stroke-width="0.4"/>
<text transform="translate(30.5,372.1) rotate(0.3) scale(0.09400,0.1)" font-size="38.6">actual</text>
<text transform="translate(30.5,377.65) rotate(0.3) scale(0.09400,0.1)" font-size="38.6">prediction</text>
<path d="M16.3 287.38H146.8M16.3 381.55H146.8" fill="none" stroke="#bebebe" stroke-width="1" stroke-linecap="square"/>
<path d="M16.3 287.38V381.55M146.8 287.38V381.55" fill="none" stroke="#c8c8c8" stroke-width="1" stroke-linecap="square"/>
<line x1="22.23" x2="22.23" y1="382.05" y2="383.15" stroke="#999" stroke-width="0.4"/>
<text transform="translate(22.23,386.2) rotate(0.3) scale(0.09400,0.1)" font-size="39.5" text-anchor="middle">0</text>
<line x1="46.2" x2="46.2" y1="382.05" y2="383.15" stroke="#999" stroke-width="0.4"/>
<text transform="translate(46.2,386.2) rotate(0.3) scale(0.09400,0.1)" font-size="39.5" text-anchor="middle">20</text>
<line x1="70.17" x2="70.17" y1="382.05" y2="383.15" stroke="#999" stroke-width="0.4"/>
<text transform="translate(70.17,386.2) rotate(0.3) scale(0.09400,0.1)" font-size="39.5" text-anchor="middle">40</text>
<line x1="94.13" x2="94.13" y1="382.05" y2="383.15" stroke="#999" stroke-width="0.4"/>
<text transform="translate(94.13,386.2) rotate(0.3) scale(0.09400,0.1)" font-size="39.5" text-anchor="middle">60</text>
<line x1="118.1" x2="118.1" y1="382.05" y2="383.15" stroke="#999" stroke-width="0.4"/>
<text transform="translate(118.1,386.2) rotate(0.3) scale(0.09400,0.1)" font-size="39.5" text-anchor="middle">80</text>
<line x1="142.07" x2="142.07" y1="382.05" y2="383.15" stroke="#999" stroke-width="0.4"/>
<text transform="translate(142.07,386.2) rotate(0.3) scale(0.09400,0.1)" font-size="39.5" text-anchor="middle">100</text>
<line x1="14.7" x2="15.8" y1="378.05" y2="378.05" stroke="#999" stroke-width="0.4"/>
<text transform="translate(14.8,379.95) rotate(0.3) scale(0.09400,0.1)" font-size="39.5" text-anchor="end">0.1</text>
<line x1="14.7" x2="15.8" y1="366.18" y2="366.18" stroke="#999" stroke-width="0.4"/>
<text transform="translate(14.8,368.08) rotate(0.3) scale(0.09400,0.1)" font-size="39.5" text-anchor="end">0.2</text>
<line x1="14.7" x2="15.8" y1="354.31" y2="354.31" stroke="#999" stroke-width="0.4"/>
<text transform="translate(14.8,356.21) rotate(0.3) scale(0.09400,0.1)" font-size="39.5" text-anchor="end">0.3</text>
<line x1="14.7" x2="15.8" y1="342.44" y2="342.44" stroke="#999" stroke-width="0.4"/>
<text transform="translate(14.8,344.34) rotate(0.3) scale(0.09400,0.1)" font-size="39.5" text-anchor="end">0.4</text>
<line x1="14.7" x2="15.8" y1="330.57" y2="330.57" stroke="#999" stroke-width="0.4"/>
<text transform="translate(14.8,332.47) rotate(0.3) scale(0.09400,0.1)" font-size="39.5" text-anchor="end">0.5</text>
<line x1="14.7" x2="15.8" y1="318.7" y2="318.7" stroke="#999" stroke-width="0.4"/>
<text transform="translate(14.8,320.6) rotate(0.3) scale(0.09400,0.1)" font-size="39.5" text-anchor="end">0.6</text>
<line x1="14.7" x2="15.8" y1="306.83" y2="306.83" stroke="#999" stroke-width="0.4"/>
<text transform="translate(14.8,308.73) rotate(0.3) scale(0.09400,0.1)" font-size="39.5" text-anchor="end">0.7</text>
<line x1="14.7" x2="15.8" y1="294.96" y2="294.96" stroke="#999" stroke-width="0.4"/>
<text transform="translate(14.8,296.86) rotate(0.3) scale(0.09400,0.1)" font-size="39.5" text-anchor="end">0.8</text>
<text transform="translate(81.75,285.88) rotate(0.3) scale(0.09400,0.1)" font-size="49.5" text-anchor="middle">STEP_DRILL_GRU</text>
<text transform="translate(81.55,390.55) rotate(0.3) scale(0.09400,0.1)" font-size="39.5" text-anchor="middle">TIME(100ms)</text>
<text transform="translate(6.9,334.77) rotate(-90.3) scale(0.09400,0.1)" font-size="38.31" text-anchor="middle">CURR(A)</text>
</g>
<g>
<polyline points="221.45,320.26 222.65,310.05 223.85,308.98 225.05,309.51 226.25,314.35 227.45,322.41 228.65,312.2 229.85,307.37 231.05,307.1 232.26,307.9 233.46,308.98 234.66,309.51 235.86,310.05 237.06,310.05 238.26,308.44 239.46,306.83 240.66,306.83 241.86,305.75 243.07,310.59 244.27,312.74 245.47,308.98 246.67,311.66 247.87,313.28 249.07,311.66 250.27,309.51 251.47,307.37 252.67,308.98 253.88,310.05 255.08,311.4 256.28,313.28 257.48,306.83 258.68,304.68 259.88,306.83 261.08,307.37 262.28,307.9 263.48,310.05 264.69,312.2 265.89,314.89 267.09,317.04 268.29,310.59 269.49,313.28 270.69,315.42 271.89,311.66 273.09,311.13 274.29,315.42 275.5,309.51 276.7,314.35 277.9,309.51 279.1,308.98 280.3,311.13 281.5,314.89 282.7,317.57 283.9,311.13 285.1,312.74 286.3,311.13 287.51,310.05 288.71,308.98 289.91,308.44 291.11,311.4 292.31,313.54 293.51,315.42 294.71,307.37 295.91,308.71 297.11,311.66 298.32,313.81 299.52,309.51 300.72,307.9 301.92,312.2 303.12,312.2 304.32,307.9 305.52,306.83 306.72,307.9 307.92,306.83 309.13,310.05 310.33,313.28 311.53,315.69 312.73,317.3 313.93,318.11 315.13,316.5 316.33,314.89 317.53,310.05 318.73,329.66 319.94,376.67 321.14,375.32 322.34,310.59 323.54,310.05 324.74,309.51 325.94,314.89 327.14,320.26 328.34,315.69 329.54,310.59 330.75,309.51 331.95,313.54 333.15,317.57 334.35,312.47 335.55,308.17 336.75,306.29 337.95,306.29 339.15,311.4 340.35,314.35" fill="none" stroke="#0a0aaa" stroke-width="0.52" stroke-linejoin="round" stroke-opacity="0.5"/>
<path d="M221.45 320.26 L221.6 318.98 L221.75 317.71 L221.9 316.43 L222.05 315.16 L222.2 313.88 L222.35 312.6 L222.5 311.33 L222.65 310.05 L222.8 309.92 L222.95 309.78 L223.1 309.65 L223.25 309.51 L223.4 309.38 L223.55 309.25 L223.7 309.11 L223.85 308.98 L224 309.04 L224.15 309.11 L224.3 309.18 L224.45 309.25 L224.6 309.31 L224.75 309.38 L224.9 309.45 L225.05 309.51 L225.2 310.12 L225.35 310.72 L225.5 311.33 L225.65 311.93 L225.8 312.54 L225.95 313.14 L226.1 313.75 L226.25 314.35 L226.4 315.36 L226.55 316.36 L226.7 317.37 L226.85 318.38 L227 319.39 L227.15 320.39 L227.3 321.4 L227.45 322.41 L227.6 321.13 L227.75 319.86 L227.9 318.58 L228.05 317.3 L228.2 316.03 L228.35 314.75 L228.5 313.48 L228.65 312.2 L228.8 311.6 L228.95 310.99 L229.1 310.39 L229.25 309.78 L229.4 309.18 L229.55 308.57 L229.7 307.97 L229.85 307.37 L230 307.33 L230.15 307.3 L230.3 307.27 L230.45 307.23 L230.6 307.2 L230.75 307.16 L230.9 307.13 L231.05 307.1 L231.2 307.2 L231.35 307.3 L231.5 307.4 L231.65 307.5 L231.8 307.6 L231.96 307.7 L232.11 307.8 L232.26 307.9 L232.41 308.04 L232.56 308.17 L232.71 308.31 L232.86 308.44 L233.01 308.57 L233.16 308.71 L233.31 308.84 L233.46 308.98 L233.61 309.04 L233.76 309.11 L233.91 309.18 L234.06 309.25 L234.21 309.31 L234.36 309.38 L234.51 309.45 L234.66 309.51 L234.81 309.58 L234.96 309.65 L235.11 309.72 L235.26 309.78 L235.41 309.85 L235.56 309.92 L235.71 309.99 L235.86 310.05 L236.01 310.05 L236.16 310.05 L236.31 310.05 L236.46 310.05 L236.61 310.05 L236.76 310.05 L236.91 310.05 L237.06 310.05 L237.21 309.85 L237.36 309.65 L237.51 309.45 L237.66 309.25 L237.81 309.04 L237.96 308.84 L238.11 308.64 L238.26 308.44 L238.41 308.24 L238.56 308.04 L238.71 307.84 L238.86 307.63 L239.01 307.43 L239.16 307.23 L239.31 307.03 L239.46 306.83 L239.61 306.83 L239.76 306.83 L239.91 306.83 L240.06 306.83 L240.21 306.83 L240.36 306.83 L240.51 306.83 L240.66 306.83 L240.81 306.69 L240.96 306.56 L241.11 306.43 L241.26 306.29 L241.41 306.16 L241.56 306.02 L241.71 305.89 L241.86 305.75 L242.01 306.36 L242.16 306.96 L242.31 307.57 L242.46 308.17 L242.61 308.78 L242.77 309.38 L242.92 309.99 L243.07 310.59 L243.22 310.86 L243.37 311.13 L243.52 311.4 L243.67 311.66 L243.82 311.93 L243.97 312.2 L244.12 312.47 L244.27 312.74 L244.42 312.27 L244.57 311.8 L244.72 311.33 L244.87 310.86 L245.02 310.39 L245.17 309.92 L245.32 309.45 L245.47 308.98 L245.62 309.31 L245.77 309.65 L245.92 309.99 L246.07 310.32 L246.22 310.66 L246.37 310.99 L246.52 311.33 L246.67 311.66 L246.82 311.87 L246.97 312.07 L247.12 312.27 L247.27 312.47 L247.42 312.67 L247.57 312.87 L247.72 313.07 L247.87 313.28 L248.02 313.07 L248.17 312.87 L248.32 312.67 L248.47 312.47 L248.62 312.27 L248.77 312.07 L248.92 311.87 L249.07 311.66 L249.22 311.4 L249.37 311.13 L249.52 310.86 L249.67 310.59 L249.82 310.32 L249.97 310.05 L250.12 309.78 L250.27 309.51 L250.42 309.25 L250.57 308.98 L250.72 308.71 L250.87 308.44 L251.02 308.17 L251.17 307.9 L251.32 307.63 L251.47 307.37 L251.62 307.57 L251.77 307.77 L251.92 307.97 L252.07 308.17 L252.22 308.37 L252.37 308.57 L252.52 308.78 L252.67 308.98 L252.82 309.11 L252.97 309.25 L253.12 309.38 L253.27 309.51 L253.42 309.65 L253.57 309.78 L253.73 309.92 L253.88 310.05 L254.03 310.22 L254.18 310.39 L254.33 310.56 L254.48 310.72 L254.63 310.89 L254.78 311.06 L254.93 311.23 L255.08 311.4 L255.23 311.63 L255.38 311.87 L255.53 312.1 L255.68 312.34 L255.83 312.57 L255.98 312.81 L256.13 313.04 L256.28 313.28 L256.43 312.47 L256.58 311.66 L256.73 310.86 L256.88 310.05 L257.03 309.25 L257.18 308.44 L257.33 307.63 L257.48 306.83 L257.63 306.56 L257.78 306.29 L257.93 306.02 L258.08 305.75 L258.23 305.49 L258.38 305.22 L258.53 304.95 L258.68 304.68 L258.83 304.95 L258.98 305.22 L259.13 305.49 L259.28 305.75 L259.43 306.02 L259.58 306.29 L259.73 306.56 L259.88 306.83 L260.03 306.9 L260.18 306.96 L260.33 307.03 L260.48 307.1 L260.63 307.16 L260.78 307.23 L260.93 307.3 L261.08 307.37 L261.23 307.43 L261.38 307.5 L261.53 307.57 L261.68 307.63 L261.83 307.7 L261.98 307.77 L262.13 307.84 L262.28 307.9 L262.43 308.17 L262.58 308.44 L262.73 308.71 L262.88 308.98 L263.03 309.25 L263.18 309.51 L263.33 309.78 L263.48 310.05 L263.63 310.32 L263.78 310.59 L263.93 310.86 L264.08 311.13 L264.23 311.4 L264.38 311.66 L264.53 311.93 L264.69 312.2 L264.84 312.54 L264.99 312.87 L265.14 313.21 L265.29 313.54 L265.44 313.88 L265.59 314.22 L265.74 314.55 L265.89 314.89 L266.04 315.16 L266.19 315.42 L266.34 315.69 L266.49 315.96 L266.64 316.23 L266.79 316.5 L266.94 316.77 L267.09 317.04 L267.24 316.23 L267.39 315.42 L267.54 314.62 L267.69 313.81 L267.84 313.01 L267.99 312.2 L268.14 311.4 L268.29 310.59 L268.44 310.93 L268.59 311.26 L268.74 311.6 L268.89 311.93 L269.04 312.27 L269.19 312.6 L269.34 312.94 L269.49 313.28 L269.64 313.54 L269.79 313.81 L269.94 314.08 L270.09 314.35 L270.24 314.62 L270.39 314.89 L270.54 315.16 L270.69 315.42 L270.84 314.95 L270.99 314.48 L271.14 314.01 L271.29 313.54 L271.44 313.07 L271.59 312.6 L271.74 312.13 L271.89 311.66 L272.04 311.6 L272.19 311.53 L272.34 311.46 L272.49 311.4 L272.64 311.33 L272.79 311.26 L272.94 311.19 L273.09 311.13 L273.24 311.66 L273.39 312.2 L273.54 312.74 L273.69 313.28 L273.84 313.81 L273.99 314.35 L274.14 314.89 L274.29 315.42 L274.44 314.69 L274.59 313.95 L274.74 313.21 L274.89 312.47 L275.04 311.73 L275.19 310.99 L275.34 310.25 L275.5 309.51 L275.65 310.12 L275.8 310.72 L275.95 311.33 L276.1 311.93 L276.25 312.54 L276.4 313.14 L276.55 313.75 L276.7 314.35 L276.85 313.75 L277 313.14 L277.15 312.54 L277.3 311.93 L277.45 311.33 L277.6 310.72 L277.75 310.12 L277.9 309.51 L278.05 309.45 L278.2 309.38 L278.35 309.31 L278.5 309.25 L278.65 309.18 L278.8 309.11 L278.95 309.04 L279.1 308.98 L279.25 309.25 L279.4 309.51 L279.55 309.78 L279.7 310.05 L279.85 310.32 L280 310.59 L280.15 310.86 L280.3 311.13 L280.45 311.6 L280.6 312.07 L280.75 312.54 L280.9 313.01 L281.05 313.48 L281.2 313.95 L281.35 314.42 L281.5 314.89 L281.65 315.22 L281.8 315.56 L281.95 315.89 L282.1 316.23 L282.25 316.57 L282.4 316.9 L282.55 317.24 L282.7 317.57 L282.85 316.77 L283 315.96 L283.15 315.16 L283.3 314.35 L283.45 313.54 L283.6 312.74 L283.75 311.93 L283.9 311.13 L284.05 311.33 L284.2 311.53 L284.35 311.73 L284.5 311.93 L284.65 312.13 L284.8 312.34 L284.95 312.54 L285.1 312.74 L285.25 312.54 L285.4 312.34 L285.55 312.13 L285.7 311.93 L285.85 311.73 L286 311.53 L286.15 311.33 L286.3 311.13 L286.46 310.99 L286.61 310.86 L286.76 310.72 L286.91 310.59 L287.06 310.46 L287.21 310.32 L287.36 310.19 L287.51 310.05 L287.66 309.92 L287.81 309.78 L287.96 309.65 L288.11 309.51 L288.26 309.38 L288.41 309.25 L288.56 309.11 L288.71 308.98 L288.86 308.91 L289.01 308.84 L289.16 308.78 L289.31 308.71 L289.46 308.64 L289.61 308.57 L289.76 308.51 L289.91 308.44 L290.06 308.81 L290.21 309.18 L290.36 309.55 L290.51 309.92 L290.66 310.29 L290.81 310.66 L290.96 311.03 L291.11 311.4 L291.26 311.66 L291.41 311.93 L291.56 312.2 L291.71 312.47 L291.86 312.74 L292.01 313.01 L292.16 313.28 L292.31 313.54 L292.46 313.78 L292.61 314.01 L292.76 314.25 L292.91 314.48 L293.06 314.72 L293.21 314.95 L293.36 315.19 L293.51 315.42 L293.66 314.42 L293.81 313.41 L293.96 312.4 L294.11 311.4 L294.26 310.39 L294.41 309.38 L294.56 308.37 L294.71 307.37 L294.86 307.53 L295.01 307.7 L295.16 307.87 L295.31 308.04 L295.46 308.21 L295.61 308.37 L295.76 308.54 L295.91 308.71 L296.06 309.08 L296.21 309.45 L296.36 309.82 L296.51 310.19 L296.66 310.56 L296.81 310.93 L296.96 311.29 L297.11 311.66 L297.27 311.93 L297.42 312.2 L297.57 312.47 L297.72 312.74 L297.87 313.01 L298.02 313.28 L298.17 313.54 L298.32 313.81 L298.47 313.28 L298.62 312.74 L298.77 312.2 L298.92 311.66 L299.07 311.13 L299.22 310.59 L299.37 310.05 L299.52 309.51 L299.67 309.31 L299.82 309.11 L299.97 308.91 L300.12 308.71 L300.27 308.51 L300.42 308.31 L300.57 308.1 L300.72 307.9 L300.87 308.44 L301.02 308.98 L301.17 309.51 L301.32 310.05 L301.47 310.59 L301.62 311.13 L301.77 311.66 L301.92 312.2 L302.07 312.2 L302.22 312.2 L302.37 312.2 L302.52 312.2 L302.67 312.2 L302.82 312.2 L302.97 312.2 L303.12 312.2 L303.27 311.66 L303.42 311.13 L303.57 310.59 L303.72 310.05 L303.87 309.51 L304.02 308.98 L304.17 308.44 L304.32 307.9 L304.47 307.77 L304.62 307.63 L304.77 307.5 L304.92 307.37 L305.07 307.23 L305.22 307.1 L305.37 306.96 L305.52 306.83 L305.67 306.96 L305.82 307.1 L305.97 307.23 L306.12 307.37 L306.27 307.5 L306.42 307.63 L306.57 307.77 L306.72 307.9 L306.87 307.77 L307.02 307.63 L307.17 307.5 L307.32 307.37 L307.47 307.23 L307.62 307.1 L307.77 306.96 L307.92 306.83 L308.07 307.23 L308.23 307.63 L308.38 308.04 L308.53 308.44 L308.68 308.84 L308.83 309.25 L308.98 309.65 L309.13 310.05 L309.28 310.46 L309.43 310.86 L309.58 311.26 L309.73 311.66 L309.88 312.07 L310.03 312.47 L310.18 312.87 L310.33 313.28 L310.48 313.58 L310.63 313.88 L310.78 314.18 L310.93 314.48 L311.08 314.79 L311.23 315.09 L311.38 315.39 L311.53 315.69 L311.68 315.89 L311.83 316.1 L311.98 316.3 L312.13 316.5 L312.28 316.7 L312.43 316.9 L312.58 317.1 L312.73 317.3 L312.88 317.41 L313.03 317.51 L313.18 317.61 L313.33 317.71 L313.48 317.81 L313.63 317.91 L313.78 318.01 L313.93 318.11 L314.08 317.91 L314.23 317.71 L314.38 317.51 L314.53 317.3 L314.68 317.1 L314.83 316.9 L314.98 316.7 L315.13 316.5 L315.28 316.3 L315.43 316.1 L315.58 315.89 L315.73 315.69 L315.88 315.49 L316.03 315.29 L316.18 315.09 L316.33 314.89 L316.48 314.28 L316.63 313.68 L316.78 313.07 L316.93 312.47 L317.08 311.87 L317.23 311.26 L317.38 310.66 L317.53 310.05 L317.68 312.5 L317.83 314.95 L317.98 317.41 L318.13 319.86 L318.28 322.31 L318.43 324.76 L318.58 327.21 L318.73 329.66 L318.88 335.54 L319.03 341.41 L319.19 347.29 L319.34 353.16 L319.49 359.04M319.94 376.67 L320.09 376.5 L320.24 376.33 L320.39 376.16M322.04 326.77 L322.19 318.68 L322.34 310.59 L322.49 310.52 L322.64 310.46 L322.79 310.39 L322.94 310.32 L323.09 310.25 L323.24 310.19 L323.39 310.12 L323.54 310.05 L323.69 309.99 L323.84 309.92 L323.99 309.85 L324.14 309.78 L324.29 309.72 L324.44 309.65 L324.59 309.58 L324.74 309.51 L324.89 310.19 L325.04 310.86 L325.19 311.53 L325.34 312.2 L325.49 312.87 L325.64 313.54 L325.79 314.22 L325.94 314.89 L326.09 315.56 L326.24 316.23 L326.39 316.9 L326.54 317.57 L326.69 318.24 L326.84 318.92 L326.99 319.59 L327.14 320.26 L327.29 319.69 L327.44 319.12 L327.59 318.55 L327.74 317.98 L327.89 317.41 L328.04 316.83 L328.19 316.26 L328.34 315.69 L328.49 315.05 L328.64 314.42 L328.79 313.78 L328.94 313.14 L329.09 312.5 L329.24 311.87 L329.39 311.23 L329.54 310.59 L329.69 310.46 L329.84 310.32 L330 310.19 L330.15 310.05 L330.3 309.92 L330.45 309.78 L330.6 309.65 L330.75 309.51 L330.9 310.02 L331.05 310.52 L331.2 311.03 L331.35 311.53 L331.5 312.03 L331.65 312.54 L331.8 313.04 L331.95 313.54 L332.1 314.05 L332.25 314.55 L332.4 315.05 L332.55 315.56 L332.7 316.06 L332.85 316.57 L333 317.07 L333.15 317.57 L333.3 316.94 L333.45 316.3 L333.6 315.66 L333.75 315.02 L333.9 314.38 L334.05 313.75 L334.2 313.11 L334.35 312.47 L334.5 311.93 L334.65 311.4 L334.8 310.86 L334.95 310.32 L335.1 309.78 L335.25 309.25 L335.4 308.71 L335.55 308.17 L335.7 307.94 L335.85 307.7 L336 307.47M337.65 306.29 L337.8 306.29 L337.95 306.29M338.1 306.93 L338.25 307.57 L338.4 308.21 L338.55 308.84 L338.7 309.48 L338.85 310.12 L339 310.76 L339.15 311.4 L339.3 311.76 L339.45 312.13 L339.6 312.5 L339.75 312.87 L339.9 313.24 L340.05 313.61 L340.2 313.98 L340.35 314.35" fill="none" stroke="#0a0aaa" stroke-width="0.52" stroke-linejoin="round" stroke-opacity="0.5"/>
<polyline points="221.45,310.46 222.65,299.58 223.85,299.04 225.05,300.38 226.25,305.49 227.45,306.02 228.65,301.46 229.85,297.7 231.05,297.16 232.26,299.04 233.46,297.7 234.66,295.82 235.86,297.16 237.06,297.43 238.26,295.82 239.46,293.94 240.66,292.86 241.86,293.94 243.07,297.16 244.27,298.37 245.47,295.82 246.67,296.89 247.87,297.7 249.07,295.82 250.27,293.94 251.47,292.06 252.67,293.4 253.88,292.59 255.08,294.47 256.28,293.94 257.48,292.59 258.68,291.36 259.88,293.67 261.08,294.2 262.28,295.28 263.48,297.7 264.69,300.38 265.89,302.26 267.09,302.8 268.29,300.38 269.49,302.26 270.69,303.44 271.89,300.38 273.09,297.7 274.29,299.58 275.5,297.16 276.7,298.37 277.9,297.16 279.1,297.7 280.3,300.38 281.5,301.99 282.7,300.11 283.9,300.65 285.1,303.07 286.3,303.44 287.51,302.26 288.71,300.92 289.91,301.99 291.11,304.68 292.31,306.56 293.51,302.8 294.71,301.46 295.91,303.61 297.11,305.49 298.32,307.37 299.52,302.8 300.72,301.99 301.92,304.41 303.12,305.49 304.32,302.26 305.52,299.58 306.72,299.58 307.92,302.26 309.13,304.41 310.33,306.56 311.53,308.71 312.73,310.05 313.93,310.46 315.13,308.98 316.33,308.17 317.53,304.68 318.73,324.29 319.94,375.32 321.14,375.86 322.34,306.56 323.54,306.29 324.74,306.02 325.94,310.86 327.14,314.35 328.34,311.4 329.54,307.37 330.75,306.56 331.95,310.32 333.15,314.89 334.35,310.32 335.55,306.02 336.75,307.37 337.95,304.68 339.15,308.71 340.35,312.47" fill="none" stroke="#d43a4c" stroke-width="0.4" stroke-linejoin="round"/>
<rect x="216.5" y="367.15" width="34" height="12.6" rx="0.8" fill="#fff" fill-opacity="0.8" stroke="#e2e2e2" stroke-width="0.5"/>
<line x1="218.8" x2="226.9" y1="370.75" y2="370.75" stroke="#0a0aaa" stroke-width="0.52"/>
<line x1="218.8" x2="226.9" y1="376.3" y2="376.3" stroke="#d43a4c" stroke-width="0.4"/>
<text transform="translate(230.1,372.1) rotate(0.3) scale(0.09400,0.1)" font-size="38.6">actual</text>
<text transform="translate(230.1,377.65) rotate(0.3) scale(0.09400,0.1)" font-size="38.6">prediction</text>
<path d="M215.5 287.38H346.3M215.5 381.55H346.3" fill="none" stroke="#bebebe" stroke-width="1" stroke-linecap="square"/>
<path d="M215.5 287.38V381.55M346.3 287.38V381.55" fill="none" stroke="#c8c8c8" stroke-width="1" stroke-linecap="square"/>
<line x1="221.45" x2="221.45" y1="382.05" y2="383.15" stroke="#999" stroke-width="0.4"/>
<text transform="translate(221.45,386.2) rotate(0.3) scale(0.09400,0.1)" font-size="39.5" text-anchor="middle">0</text>
<line x1="245.47" x2="245.47" y1="382.05" y2="383.15" stroke="#999" stroke-width="0.4"/>
<text transform="translate(245.47,386.2) rotate(0.3) scale(0.09400,0.1)" font-size="39.5" text-anchor="middle">20</text>
<line x1="269.49" x2="269.49" y1="382.05" y2="383.15" stroke="#999" stroke-width="0.4"/>
<text transform="translate(269.49,386.2) rotate(0.3) scale(0.09400,0.1)" font-size="39.5" text-anchor="middle">40</text>
<line x1="293.51" x2="293.51" y1="382.05" y2="383.15" stroke="#999" stroke-width="0.4"/>
<text transform="translate(293.51,386.2) rotate(0.3) scale(0.09400,0.1)" font-size="39.5" text-anchor="middle">60</text>
<line x1="317.53" x2="317.53" y1="382.05" y2="383.15" stroke="#999" stroke-width="0.4"/>
<text transform="translate(317.53,386.2) rotate(0.3) scale(0.09400,0.1)" font-size="39.5" text-anchor="middle">80</text>
<line x1="341.56" x2="341.56" y1="382.05" y2="383.15" stroke="#999" stroke-width="0.4"/>
<text transform="translate(341.56,386.2) rotate(0.3) scale(0.09400,0.1)" font-size="39.5" text-anchor="middle">100</text>
<line x1="213.9" x2="215" y1="369.95" y2="369.95" stroke="#999" stroke-width="0.4"/>
<text transform="translate(214,371.85) rotate(0.3) scale(0.09400,0.1)" font-size="39.5" text-anchor="end">0.45</text>
<line x1="213.9" x2="215" y1="356.52" y2="356.52" stroke="#999" stroke-width="0.4"/>
<text transform="translate(214,358.42) rotate(0.3) scale(0.09400,0.1)" font-size="39.5" text-anchor="end">0.50</text>
<line x1="213.9" x2="215" y1="343.09" y2="343.09" stroke="#999" stroke-width="0.4"/>
<text transform="translate(214,344.99) rotate(0.3) scale(0.09400,0.1)" font-size="39.5" text-anchor="end">0.55</text>
<line x1="213.9" x2="215" y1="329.66" y2="329.66" stroke="#999" stroke-width="0.4"/>
<text transform="translate(214,331.56) rotate(0.3) scale(0.09400,0.1)" font-size="39.5" text-anchor="end">0.60</text>
<line x1="213.9" x2="215" y1="316.23" y2="316.23" stroke="#999" stroke-width="0.4"/>
<text transform="translate(214,318.13) rotate(0.3) scale(0.09400,0.1)" font-size="39.5" text-anchor="end">0.65</text>
<line x1="213.9" x2="215" y1="302.8" y2="302.8" stroke="#999" stroke-width="0.4"/>
<text transform="translate(214,304.7) rotate(0.3) scale(0.09400,0.1)" font-size="39.5" text-anchor="end">0.70</text>
<line x1="213.9" x2="215" y1="289.37" y2="289.37" stroke="#999" stroke-width="0.4"/>
<text transform="translate(214,291.27) rotate(0.3) scale(0.09400,0.1)" font-size="39.5" text-anchor="end">0.75</text>
<text transform="translate(281.1,285.88) rotate(0.3) scale(0.09400,0.1)" font-size="49.5" text-anchor="middle">TOP_METAL_GRU</text>
<text transform="translate(280.9,390.55) rotate(0.3) scale(0.09400,0.1)" font-size="39.5" text-anchor="middle">TIME(100ms)</text>
<text transform="translate(203.6,334.77) rotate(-90.3) scale(0.09400,0.1)" font-size="38.31" text-anchor="middle">CURR(A)</text>
</g>
<g>
<polyline points="420.64,293.77 421.84,294.13 423.04,295.42 424.24,294.68 425.44,293.77 426.64,294.5 427.84,293.77 429.04,294.13 430.24,293.4 431.44,293.22 432.64,293.77 433.84,294.68 435.04,294.68 436.24,295.42 437.44,294.5 438.64,295.05 439.84,295.42 441.04,295.97 442.24,295.05 443.44,295.42 444.64,295.97 445.84,295.42 447.04,295.97 448.25,295.97 449.45,295.78 450.65,295.23 451.85,295.23 453.05,295.05 454.25,295.23 455.45,295.78 456.65,295.23 457.85,295.78 459.05,295.97 460.25,295.78 461.45,295.6 462.65,295.97 463.85,296.88 465.05,294.68 466.25,296.33 467.45,359.57 468.65,326.58 469.85,294.5 471.05,293.22 472.25,293.77 473.45,294.13 474.65,294.13 475.85,294.5 477.05,294.5 478.25,294.5 479.45,294.5 480.65,294.87 481.85,295.6 483.05,295.97 484.25,295.23 485.45,294.5 486.65,294.13 487.85,293.77 489.05,293.77 490.25,293.77 491.45,293.77 492.65,293.77 493.85,293.77 495.05,293.77 496.25,293.95 497.45,294.87 498.65,297.62 499.85,294.87 501.05,295.78 502.25,296.33 503.45,371.49 504.65,324.75 505.85,321.08 507.05,293.77 508.25,294.13 509.45,294.32 510.65,294.32 511.85,294.68 513.06,295.05 514.26,295.42 515.46,296.33 516.66,297.25 517.86,297.98 519.06,296.7 520.26,297.62 521.46,296.15 522.66,297.43 523.86,298.72 525.06,300 526.26,300.92 527.46,376.99 528.66,376.07 529.86,297.8 531.06,297.62 532.26,297.62 533.46,297.8 534.66,298.17 535.86,298.72 537.06,299.45 538.26,300.37 539.46,301.28" fill="none" stroke="#0a0aaa" stroke-width="0.52" stroke-linejoin="round" stroke-opacity="0.5"/>
<path d="M420.64 293.77 L420.79 293.81 L420.94 293.86 L421.09 293.91 L421.24 293.95 L421.39 294 L421.54 294.04 L421.69 294.09 L421.84 294.13 L421.99 294.29 L422.14 294.46 L422.29 294.62 L422.44 294.78 L422.59 294.94 L422.74 295.1 L422.89 295.26 L423.04 295.42 L423.19 295.33 L423.34 295.23 L423.49 295.14 L423.64 295.05 L423.79 294.96 L423.94 294.87 L424.09 294.78 L424.24 294.68 L424.39 294.57 L424.54 294.46 L424.69 294.34 L424.84 294.23 L424.99 294.11 L425.14 294 L425.29 293.88 L425.44 293.77 L425.59 293.86 L425.74 293.95 L425.89 294.04 L426.04 294.13 L426.19 294.23 L426.34 294.32 L426.49 294.41 L426.64 294.5 L426.79 294.41 L426.94 294.32 L427.09 294.23 L427.24 294.13 L427.39 294.04 L427.54 293.95 L427.69 293.86 L427.84 293.77 L427.99 293.81 L428.14 293.86 L428.29 293.91 L428.44 293.95 L428.59 294 L428.74 294.04 L428.89 294.09 L429.04 294.13 L429.19 294.04 L429.34 293.95 L429.49 293.86 L429.64 293.77 L429.79 293.68 L429.94 293.58 L430.09 293.49 L430.24 293.4 L430.39 293.38 L430.54 293.36 L430.69 293.33 L430.84 293.31 L430.99 293.29 L431.14 293.26 L431.29 293.24 L431.44 293.22 L431.59 293.29 L431.74 293.36 L431.89 293.42 L432.04 293.49 L432.19 293.56 L432.34 293.63 L432.49 293.7 L432.64 293.77 L432.79 293.88 L432.94 294 L433.09 294.11 L433.24 294.23 L433.39 294.34 L433.54 294.46 L433.69 294.57 L433.84 294.68 L433.99 294.68 L434.14 294.68 L434.29 294.68 L434.44 294.68 L434.59 294.68 L434.74 294.68 L434.89 294.68 L435.04 294.68 L435.19 294.78 L435.34 294.87 L435.49 294.96 L435.64 295.05 L435.79 295.14 L435.94 295.23 L436.09 295.33 L436.24 295.42 L436.39 295.3 L436.54 295.19 L436.69 295.07 L436.84 294.96 L436.99 294.84 L437.14 294.73 L437.29 294.62 L437.44 294.5 L437.59 294.57 L437.74 294.64 L437.89 294.71 L438.04 294.78 L438.19 294.84 L438.34 294.91 L438.49 294.98 L438.64 295.05 L438.79 295.1 L438.94 295.14 L439.09 295.19 L439.24 295.23 L439.39 295.28 L439.54 295.33 L439.69 295.37 L439.84 295.42 L439.99 295.49 L440.14 295.55 L440.29 295.62 L440.44 295.69 L440.59 295.76 L440.74 295.83 L440.89 295.9 L441.04 295.97 L441.19 295.85 L441.34 295.74 L441.49 295.62 L441.64 295.51 L441.79 295.39 L441.94 295.28 L442.09 295.17 L442.24 295.05 L442.39 295.1 L442.54 295.14 L442.69 295.19 L442.84 295.23 L442.99 295.28 L443.14 295.33 L443.29 295.37 L443.44 295.42 L443.59 295.49 L443.74 295.55 L443.89 295.62 L444.04 295.69 L444.19 295.76 L444.34 295.83 L444.49 295.9 L444.64 295.97 L444.79 295.9 L444.94 295.83 L445.09 295.76 L445.24 295.69 L445.39 295.62 L445.54 295.55 L445.69 295.49 L445.84 295.42 L445.99 295.49 L446.14 295.55 L446.29 295.62 L446.44 295.69 L446.59 295.76 L446.74 295.83 L446.89 295.9 L447.04 295.97 L447.19 295.97 L447.34 295.97 L447.5 295.97 L447.65 295.97 L447.8 295.97 L447.95 295.97 L448.1 295.97 L448.25 295.97 L448.4 295.94 L448.55 295.92 L448.7 295.9 L448.85 295.88 L449 295.85 L449.15 295.83 L449.3 295.81 L449.45 295.78 L449.6 295.72 L449.75 295.65 L449.9 295.58 L450.05 295.51 L450.2 295.44 L450.35 295.37 L450.5 295.3 L450.65 295.23 L450.8 295.23 L450.95 295.23 L451.1 295.23 L451.25 295.23 L451.4 295.23 L451.55 295.23 L451.7 295.23 L451.85 295.23 L452 295.21 L452.15 295.19 L452.3 295.17 L452.45 295.14 L452.6 295.12 L452.75 295.1 L452.9 295.07 L453.05 295.05 L453.2 295.07 L453.35 295.1 L453.5 295.12 L453.65 295.14 L453.8 295.17 L453.95 295.19 L454.1 295.21 L454.25 295.23 L454.4 295.3 L454.55 295.37 L454.7 295.44 L454.85 295.51 L455 295.58 L455.15 295.65 L455.3 295.72 L455.45 295.78 L455.6 295.72 L455.75 295.65 L455.9 295.58 L456.05 295.51 L456.2 295.44 L456.35 295.37 L456.5 295.3 L456.65 295.23 L456.8 295.3 L456.95 295.37 L457.1 295.44 L457.25 295.51 L457.4 295.58 L457.55 295.65 L457.7 295.72 L457.85 295.78 L458 295.81 L458.15 295.83 L458.3 295.85 L458.45 295.88 L458.6 295.9 L458.75 295.92 L458.9 295.94 L459.05 295.97 L459.2 295.94 L459.35 295.92 L459.5 295.9 L459.65 295.88 L459.8 295.85 L459.95 295.83 L460.1 295.81M462.95 296.2 L463.1 296.31 L463.25 296.43 L463.4 296.54 L463.55 296.65 L463.7 296.77 L463.85 296.88 L464 296.61M464.9 294.96 L465.05 294.68 L465.2 294.89 L465.35 295.1 L465.5 295.3 L465.65 295.51 L465.8 295.72 L465.95 295.92 L466.1 296.13 L466.25 296.33M469.85 294.5 L470 294.34 L470.15 294.18 L470.3 294.02 L470.45 293.86 L470.6 293.7 L470.75 293.54 L470.9 293.38 L471.05 293.22 L471.2 293.29 L471.35 293.36 L471.5 293.42 L471.65 293.49 L471.8 293.56M477.2 294.5 L477.35 294.5 L477.5 294.5 L477.65 294.5 L477.8 294.5 L477.95 294.5 L478.1 294.5 L478.25 294.5 L478.4 294.5 L478.55 294.5 L478.7 294.5 L478.85 294.5 L479 294.5 L479.15 294.5 L479.3 294.5M479.6 294.55 L479.75 294.59 L479.9 294.64 L480.05 294.68 L480.2 294.73 L480.35 294.78 L480.5 294.82 L480.65 294.87 L480.8 294.96 L480.95 295.05 L481.1 295.14 L481.25 295.23 L481.4 295.33 L481.55 295.42 L481.7 295.51 L481.85 295.6 L482 295.65 L482.15 295.69 L482.3 295.74 L482.45 295.78 L482.6 295.83 L482.75 295.88 L482.9 295.92 L483.05 295.97 L483.2 295.88 L483.35 295.78 L483.5 295.69 L483.65 295.6 L483.8 295.51 L483.95 295.42 L484.1 295.33 L484.25 295.23 L484.4 295.14 L484.55 295.05 L484.7 294.96 L484.85 294.87 L485 294.78 L485.15 294.68M485.9 294.36 L486.05 294.32 L486.2 294.27 L486.35 294.23 L486.5 294.18 L486.65 294.13 L486.8 294.09 L486.95 294.04 L487.1 294 L487.25 293.95 L487.4 293.91 L487.55 293.86 L487.7 293.81 L487.85 293.77 L488 293.77 L488.15 293.77 L488.3 293.77M500.6 295.44 L500.75 295.55 L500.9 295.67 L501.05 295.78 L501.2 295.85 L501.35 295.92 L501.5 295.99 L501.65 296.06 L501.8 296.13 L501.95 296.2 L502.1 296.27 L502.25 296.33M505.4 322.45 L505.55 322 L505.7 321.54 L505.85 321.08 L506 317.67 L506.15 314.25 L506.3 310.84 L506.45 307.42M507.05 293.77 L507.2 293.81 L507.35 293.86M508.4 294.16 L508.55 294.18 L508.7 294.2 L508.85 294.23 L509 294.25 L509.15 294.27 L509.3 294.29 L509.45 294.32 L509.6 294.32 L509.75 294.32 L509.9 294.32 L510.05 294.32M515.31 296.22 L515.46 296.33 L515.61 296.45 L515.76 296.56 L515.91 296.68 L516.06 296.79 L516.21 296.91 L516.36 297.02 L516.51 297.14 L516.66 297.25 L516.81 297.34 L516.96 297.43 L517.11 297.53 L517.26 297.62 L517.41 297.71 L517.56 297.8 L517.71 297.89 L517.86 297.98 L518.01 297.82 L518.16 297.66 L518.31 297.5 L518.46 297.34 L518.61 297.18 L518.76 297.02 L518.91 296.86 L519.06 296.7 L519.21 296.82 L519.36 296.93 L519.51 297.04 L519.66 297.16 L519.81 297.27 L519.96 297.39 L520.11 297.5M523.56 298.4 L523.71 298.56 L523.86 298.72 L524.01 298.88 L524.16 299.04 L524.31 299.2 L524.46 299.36 L524.61 299.52 L524.76 299.68 L524.91 299.84 L525.06 300 L525.21 300.11 L525.36 300.23M529.86 297.8 L530.01 297.78 L530.16 297.75 L530.31 297.73 L530.46 297.71 L530.61 297.69 L530.76 297.66M534.96 298.3 L535.11 298.37 L535.26 298.44 L535.41 298.51 L535.56 298.58 L535.71 298.65 L535.86 298.72 L536.01 298.81 L536.16 298.9 L536.31 298.99 L536.46 299.08 L536.61 299.18 L536.76 299.27 L536.91 299.36 L537.06 299.45 L537.21 299.56 L537.36 299.68 L537.51 299.79 L537.66 299.91 L537.81 300.02 L537.96 300.14 L538.11 300.25 L538.26 300.37 L538.41 300.48 L538.56 300.6 L538.71 300.71 L538.86 300.82 L539.01 300.94 L539.16 301.05 L539.31 301.17 L539.46 301.28" fill="none" stroke="#0a0aaa" stroke-width="0.52" stroke-linejoin="round" stroke-opacity="0.5"/>
<polyline points="420.64,291.11 421.84,291.57 423.04,291.57 424.24,291.57 425.44,291.93 426.64,291.93 427.84,291.93 429.04,291.93 430.24,291.93 431.44,292.12 432.64,292.37 433.84,292.85 435.04,293.22 436.24,293.58 437.44,292.67 438.64,291.38 439.84,292.3 441.04,292.85 442.24,293.22 443.44,293.22 444.64,293.22 445.84,293.03 447.04,292.85 448.25,292.67 449.45,293.03 450.65,293.22 451.85,293.4 453.05,293.58 454.25,293.58 455.45,293.58 456.65,294.13 457.85,294.68 459.05,295.23 460.25,295.42 461.45,295.42 462.65,295.6 463.85,295.78 465.05,295.78 466.25,297.25 467.45,359.57 468.65,326.58 469.85,295.78 471.05,294.13 472.25,293.95 473.45,293.95 474.65,294.13 475.85,294.13 477.05,294.13 478.25,293.95 479.45,294.13 480.65,294.13 481.85,294.5 483.05,294.87 484.25,294.5 485.45,294.13 486.65,293.58 487.85,293.22 489.05,293.58 490.25,293.95 491.45,294.13 492.65,294.13 493.85,294.13 495.05,294.13 496.25,294.32 497.45,295.05 498.65,297.8 499.85,294.87 501.05,294.87 502.25,295.42 503.45,371.49 504.65,327.5 505.85,314.66 507.05,294.5 508.25,293.77 509.45,293.58 510.65,294.13 511.85,294.5 513.06,294.87 514.26,295.23 515.46,295.78 516.66,296.15 517.86,295.97 519.06,295.78 520.26,297.07 521.46,296.15 522.66,297.25 523.86,297.98 525.06,298.99 526.26,300.92 527.46,376.99 528.66,376.07 529.86,298.35 531.06,297.98 532.26,297.8 533.46,297.8 534.66,297.8 535.86,297.98 537.06,298.35 538.26,297.98 539.46,297.8" fill="none" stroke="#d43a4c" stroke-width="0.4" stroke-linejoin="round"/>
<rect x="415.7" y="367.15" width="34" height="12.6" rx="0.8" fill="#fff" fill-opacity="0.8" stroke="#e2e2e2" stroke-width="0.5"/>
<line x1="418" x2="426.1" y1="370.75" y2="370.75" stroke="#0a0aaa" stroke-width="0.52"/>
<line x1="418" x2="426.1" y1="376.3" y2="376.3" stroke="#d43a4c" stroke-width="0.4"/>
<text transform="translate(429.3,372.1) rotate(0.3) scale(0.09400,0.1)" font-size="38.6">actual</text>
<text transform="translate(429.3,377.65) rotate(0.3) scale(0.09400,0.1)" font-size="38.6">prediction</text>
<path d="M414.7 287.38H545.4M414.7 381.55H545.4" fill="none" stroke="#bebebe" stroke-width="1" stroke-linecap="square"/>
<path d="M414.7 287.38V381.55M545.4 287.38V381.55" fill="none" stroke="#c8c8c8" stroke-width="1" stroke-linecap="square"/>
<line x1="420.64" x2="420.64" y1="382.05" y2="383.15" stroke="#999" stroke-width="0.4"/>
<text transform="translate(420.64,386.2) rotate(0.3) scale(0.09400,0.1)" font-size="39.5" text-anchor="middle">0</text>
<line x1="444.64" x2="444.64" y1="382.05" y2="383.15" stroke="#999" stroke-width="0.4"/>
<text transform="translate(444.64,386.2) rotate(0.3) scale(0.09400,0.1)" font-size="39.5" text-anchor="middle">20</text>
<line x1="468.65" x2="468.65" y1="382.05" y2="383.15" stroke="#999" stroke-width="0.4"/>
<text transform="translate(468.65,386.2) rotate(0.3) scale(0.09400,0.1)" font-size="39.5" text-anchor="middle">40</text>
<line x1="492.65" x2="492.65" y1="382.05" y2="383.15" stroke="#999" stroke-width="0.4"/>
<text transform="translate(492.65,386.2) rotate(0.3) scale(0.09400,0.1)" font-size="39.5" text-anchor="middle">60</text>
<line x1="516.66" x2="516.66" y1="382.05" y2="383.15" stroke="#999" stroke-width="0.4"/>
<text transform="translate(516.66,386.2) rotate(0.3) scale(0.09400,0.1)" font-size="39.5" text-anchor="middle">80</text>
<line x1="540.66" x2="540.66" y1="382.05" y2="383.15" stroke="#999" stroke-width="0.4"/>
<text transform="translate(540.66,386.2) rotate(0.3) scale(0.09400,0.1)" font-size="39.5" text-anchor="middle">100</text>
<line x1="413.1" x2="414.2" y1="373.32" y2="373.32" stroke="#999" stroke-width="0.4"/>
<text transform="translate(413.2,375.22) rotate(0.3) scale(0.09400,0.1)" font-size="39.5" text-anchor="end">0.5</text>
<line x1="413.1" x2="414.2" y1="354.99" y2="354.99" stroke="#999" stroke-width="0.4"/>
<text transform="translate(413.2,356.89) rotate(0.3) scale(0.09400,0.1)" font-size="39.5" text-anchor="end">0.6</text>
<line x1="413.1" x2="414.2" y1="336.66" y2="336.66" stroke="#999" stroke-width="0.4"/>
<text transform="translate(413.2,338.56) rotate(0.3) scale(0.09400,0.1)" font-size="39.5" text-anchor="end">0.7</text>
<line x1="413.1" x2="414.2" y1="318.33" y2="318.33" stroke="#999" stroke-width="0.4"/>
<text transform="translate(413.2,320.23) rotate(0.3) scale(0.09400,0.1)" font-size="39.5" text-anchor="end">0.8</text>
<line x1="413.1" x2="414.2" y1="300" y2="300" stroke="#999" stroke-width="0.4"/>
<text transform="translate(413.2,301.9) rotate(0.3) scale(0.09400,0.1)" font-size="39.5" text-anchor="end">0.9</text>
<text transform="translate(480.25,285.88) rotate(0.3) scale(0.09400,0.1)" font-size="49.5" text-anchor="middle">LOW_METAL_GRU</text>
<text transform="translate(480.05,390.55) rotate(0.3) scale(0.09400,0.1)" font-size="39.5" text-anchor="middle">TIME(100ms)</text>
<text transform="translate(405.25,334.77) rotate(-90.3) scale(0.09400,0.1)" font-size="38.31" text-anchor="middle">CURR(A)</text>
</g>
<text class="sub" x="271.65" y="129.8" font-size="11.7">(</text>
<text class="sub" transform="translate(278.6,129.8) scale(1.1,1)" font-size="11.7" font-weight="bold" text-anchor="middle">a</text>
<text class="sub" x="281.4" y="129.8" font-size="11.7">)</text>
<text class="sub" x="271.2" y="268.8" font-size="11.7">(</text>
<text class="sub" transform="translate(279.25,268.8) scale(1.14,1)" font-size="11.7" font-weight="bold" text-anchor="middle">b</text>
<text class="sub" x="282.4" y="268.8" font-size="11.7">)</text>
<text class="sub" x="272.4" y="407.1" font-size="11.7">(</text>
<text class="sub" transform="translate(278.55,407.1) scale(1.0,1)" font-size="11.7" font-weight="bold" text-anchor="middle">c</text>
<text class="sub" x="281.1" y="407.1" font-size="11.7">)</text>
</svg>
</body></html>
